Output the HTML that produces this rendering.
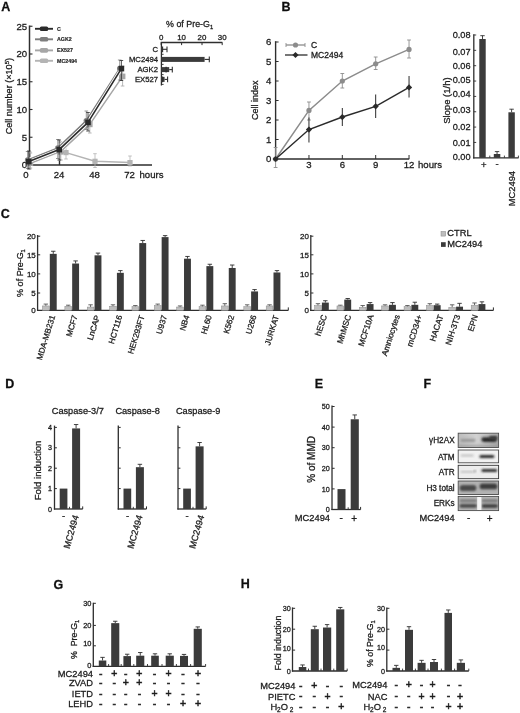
<!DOCTYPE html>
<html lang="en">
<head>
<meta charset="utf-8">
<title>Figure</title>
<style>
html,body{margin:0;padding:0;background:#fff;}
body{width:520px;height:713px;overflow:hidden;}
svg{display:block;font-family:"Liberation Sans",Arial,sans-serif;}
</style>
</head>
<body>
<svg width="520" height="713" viewBox="0 0 520 713">
<rect x="0" y="0" width="520" height="713" fill="#ffffff"/>
<g filter="url(#soft)">
<text x="1.20" y="11.40" font-size="12.5" text-anchor="start" font-weight="bold" font-style="normal" fill="#111" stroke="#111" stroke-width="0.28" >A</text>
<text x="281.50" y="11.40" font-size="12.5" text-anchor="start" font-weight="bold" font-style="normal" fill="#111" stroke="#111" stroke-width="0.28" >B</text>
<text x="0.80" y="217.60" font-size="12.5" text-anchor="start" font-weight="bold" font-style="normal" fill="#111" stroke="#111" stroke-width="0.28" >C</text>
<text x="5.20" y="388.20" font-size="12.5" text-anchor="start" font-weight="bold" font-style="normal" fill="#111" stroke="#111" stroke-width="0.28" >D</text>
<text x="314.80" y="387.60" font-size="12.5" text-anchor="start" font-weight="bold" font-style="normal" fill="#111" stroke="#111" stroke-width="0.28" >E</text>
<text x="423.60" y="388.00" font-size="12.5" text-anchor="start" font-weight="bold" font-style="normal" fill="#111" stroke="#111" stroke-width="0.28" >F</text>
<text x="53.40" y="589.20" font-size="12.5" text-anchor="start" font-weight="bold" font-style="normal" fill="#111" stroke="#111" stroke-width="0.28" >G</text>
<text x="240.80" y="588.40" font-size="12.5" text-anchor="start" font-weight="bold" font-style="normal" fill="#111" stroke="#111" stroke-width="0.28" >H</text>
<line x1="29.50" y1="25.50" x2="29.50" y2="165.70" stroke="#2e2e2e" stroke-width="1.5" />
<line x1="28.80" y1="165.00" x2="152.00" y2="165.00" stroke="#2e2e2e" stroke-width="1.5" />
<line x1="29.50" y1="26.25" x2="32.50" y2="26.25" stroke="#2e2e2e" stroke-width="1.1" />
<text x="27.20" y="29.65" font-size="9.6" text-anchor="end" font-weight="normal" font-style="normal" fill="#1c1c1c" stroke="#1c1c1c" stroke-width="0.28" >25</text>
<line x1="29.50" y1="54.00" x2="32.50" y2="54.00" stroke="#2e2e2e" stroke-width="1.1" />
<text x="27.20" y="57.40" font-size="9.6" text-anchor="end" font-weight="normal" font-style="normal" fill="#1c1c1c" stroke="#1c1c1c" stroke-width="0.28" >20</text>
<line x1="29.50" y1="81.75" x2="32.50" y2="81.75" stroke="#2e2e2e" stroke-width="1.1" />
<text x="27.20" y="85.15" font-size="9.6" text-anchor="end" font-weight="normal" font-style="normal" fill="#1c1c1c" stroke="#1c1c1c" stroke-width="0.28" >15</text>
<line x1="29.50" y1="109.50" x2="32.50" y2="109.50" stroke="#2e2e2e" stroke-width="1.1" />
<text x="27.20" y="112.90" font-size="9.6" text-anchor="end" font-weight="normal" font-style="normal" fill="#1c1c1c" stroke="#1c1c1c" stroke-width="0.28" >10</text>
<line x1="29.50" y1="137.25" x2="32.50" y2="137.25" stroke="#2e2e2e" stroke-width="1.1" />
<text x="27.20" y="140.65" font-size="9.6" text-anchor="end" font-weight="normal" font-style="normal" fill="#1c1c1c" stroke="#1c1c1c" stroke-width="0.28" >5</text>
<text x="27.20" y="168.40" font-size="9.6" text-anchor="end" font-weight="normal" font-style="normal" fill="#1c1c1c" stroke="#1c1c1c" stroke-width="0.28" >0</text>
<text x="26.00" y="177.60" font-size="9.6" text-anchor="middle" font-weight="normal" font-style="normal" fill="#1c1c1c" stroke="#1c1c1c" stroke-width="0.28" >0</text>
<text x="59.00" y="177.60" font-size="9.6" text-anchor="middle" font-weight="normal" font-style="normal" fill="#1c1c1c" stroke="#1c1c1c" stroke-width="0.28" >24</text>
<text x="94.50" y="177.60" font-size="9.6" text-anchor="middle" font-weight="normal" font-style="normal" fill="#1c1c1c" stroke="#1c1c1c" stroke-width="0.28" >48</text>
<text x="129.50" y="177.60" font-size="9.6" text-anchor="middle" font-weight="normal" font-style="normal" fill="#1c1c1c" stroke="#1c1c1c" stroke-width="0.28" >72</text>
<text x="139.50" y="177.60" font-size="9.6" text-anchor="start" font-weight="normal" font-style="normal" fill="#1c1c1c" stroke="#1c1c1c" stroke-width="0.28" >hours</text>
<text x="12.40" y="96.20" font-size="9.1" text-anchor="middle" font-weight="normal" font-style="normal" fill="#1c1c1c" stroke="#1c1c1c" stroke-width="0.28" transform="rotate(-90 12.40 96.20)" >Cell number (×10<tspan font-size="65%" dy="-3">5</tspan><tspan dy="3">)</tspan></text>
<line x1="59.50" y1="159.50" x2="59.50" y2="165.00" stroke="#2e2e2e" stroke-width="1.4" />
<polyline points="30.00,162.30 60.50,152.00 66.00,152.60 95.00,161.30 130.00,162.60" fill="none" stroke="#b4b4b4" stroke-width="1.5" stroke-linejoin="round"/>
<line x1="30.00" y1="152.00" x2="30.00" y2="169.00" stroke="#b4b4b4" stroke-width="0.8" />
<line x1="28.20" y1="152.00" x2="31.80" y2="152.00" stroke="#b4b4b4" stroke-width="0.8" />
<line x1="28.20" y1="169.00" x2="31.80" y2="169.00" stroke="#b4b4b4" stroke-width="0.8" />
<line x1="60.50" y1="142.00" x2="60.50" y2="160.00" stroke="#b4b4b4" stroke-width="0.8" />
<line x1="58.70" y1="142.00" x2="62.30" y2="142.00" stroke="#b4b4b4" stroke-width="0.8" />
<line x1="58.70" y1="160.00" x2="62.30" y2="160.00" stroke="#b4b4b4" stroke-width="0.8" />
<line x1="66.00" y1="146.00" x2="66.00" y2="159.00" stroke="#b4b4b4" stroke-width="0.8" />
<line x1="64.20" y1="146.00" x2="67.80" y2="146.00" stroke="#b4b4b4" stroke-width="0.8" />
<line x1="64.20" y1="159.00" x2="67.80" y2="159.00" stroke="#b4b4b4" stroke-width="0.8" />
<line x1="95.00" y1="153.70" x2="95.00" y2="167.50" stroke="#b4b4b4" stroke-width="0.8" />
<line x1="93.20" y1="153.70" x2="96.80" y2="153.70" stroke="#b4b4b4" stroke-width="0.8" />
<line x1="93.20" y1="167.50" x2="96.80" y2="167.50" stroke="#b4b4b4" stroke-width="0.8" />
<line x1="130.00" y1="156.00" x2="130.00" y2="166.00" stroke="#b4b4b4" stroke-width="0.8" />
<line x1="128.20" y1="156.00" x2="131.80" y2="156.00" stroke="#b4b4b4" stroke-width="0.8" />
<line x1="128.20" y1="166.00" x2="131.80" y2="166.00" stroke="#b4b4b4" stroke-width="0.8" />
<rect x="27.40" y="159.70" width="5.20" height="5.20" fill="#b4b4b4" />
<rect x="57.90" y="149.40" width="5.20" height="5.20" fill="#b4b4b4" />
<rect x="63.40" y="150.00" width="5.20" height="5.20" fill="#b4b4b4" />
<rect x="92.40" y="158.70" width="5.20" height="5.20" fill="#b4b4b4" />
<rect x="127.40" y="160.00" width="5.20" height="5.20" fill="#b4b4b4" />
<polyline points="30.40,163.20 60.80,151.40 89.80,124.40 122.60,76.40" fill="none" stroke="#fff" stroke-width="3.0" stroke-linejoin="round"/>
<polyline points="30.40,163.20 60.80,151.40 89.80,124.40 122.60,76.40" fill="none" stroke="#a6a6a6" stroke-width="1.5" stroke-linejoin="round"/>
<line x1="30.40" y1="153.00" x2="30.40" y2="168.00" stroke="#a6a6a6" stroke-width="0.8" />
<line x1="28.60" y1="153.00" x2="32.20" y2="153.00" stroke="#a6a6a6" stroke-width="0.8" />
<line x1="28.60" y1="168.00" x2="32.20" y2="168.00" stroke="#a6a6a6" stroke-width="0.8" />
<line x1="60.80" y1="142.00" x2="60.80" y2="160.00" stroke="#a6a6a6" stroke-width="0.8" />
<line x1="59.00" y1="142.00" x2="62.60" y2="142.00" stroke="#a6a6a6" stroke-width="0.8" />
<line x1="59.00" y1="160.00" x2="62.60" y2="160.00" stroke="#a6a6a6" stroke-width="0.8" />
<line x1="89.80" y1="115.00" x2="89.80" y2="133.00" stroke="#a6a6a6" stroke-width="0.8" />
<line x1="88.00" y1="115.00" x2="91.60" y2="115.00" stroke="#a6a6a6" stroke-width="0.8" />
<line x1="88.00" y1="133.00" x2="91.60" y2="133.00" stroke="#a6a6a6" stroke-width="0.8" />
<line x1="122.60" y1="66.00" x2="122.60" y2="86.00" stroke="#a6a6a6" stroke-width="0.8" />
<line x1="120.80" y1="66.00" x2="124.40" y2="66.00" stroke="#a6a6a6" stroke-width="0.8" />
<line x1="120.80" y1="86.00" x2="124.40" y2="86.00" stroke="#a6a6a6" stroke-width="0.8" />
<rect x="27.60" y="160.40" width="5.60" height="5.60" fill="#a6a6a6" />
<rect x="58.00" y="148.60" width="5.60" height="5.60" fill="#a6a6a6" />
<rect x="87.00" y="121.60" width="5.60" height="5.60" fill="#a6a6a6" />
<rect x="119.80" y="73.60" width="5.60" height="5.60" fill="#a6a6a6" />
<polyline points="27.60,160.00 57.80,147.90 86.30,120.60 119.70,68.40" fill="none" stroke="#fff" stroke-width="3.0" stroke-linejoin="round"/>
<polyline points="27.60,160.00 57.80,147.90 86.30,120.60 119.70,68.40" fill="none" stroke="#7e7e7e" stroke-width="1.5" stroke-linejoin="round"/>
<line x1="27.60" y1="151.50" x2="27.60" y2="168.50" stroke="#7e7e7e" stroke-width="0.8" />
<line x1="25.80" y1="151.50" x2="29.40" y2="151.50" stroke="#7e7e7e" stroke-width="0.8" />
<line x1="25.80" y1="168.50" x2="29.40" y2="168.50" stroke="#7e7e7e" stroke-width="0.8" />
<line x1="57.80" y1="139.50" x2="57.80" y2="158.50" stroke="#7e7e7e" stroke-width="0.8" />
<line x1="56.00" y1="139.50" x2="59.60" y2="139.50" stroke="#7e7e7e" stroke-width="0.8" />
<line x1="56.00" y1="158.50" x2="59.60" y2="158.50" stroke="#7e7e7e" stroke-width="0.8" />
<line x1="86.30" y1="111.00" x2="86.30" y2="129.50" stroke="#7e7e7e" stroke-width="0.8" />
<line x1="84.50" y1="111.00" x2="88.10" y2="111.00" stroke="#7e7e7e" stroke-width="0.8" />
<line x1="84.50" y1="129.50" x2="88.10" y2="129.50" stroke="#7e7e7e" stroke-width="0.8" />
<line x1="119.70" y1="60.00" x2="119.70" y2="80.00" stroke="#7e7e7e" stroke-width="0.8" />
<line x1="117.90" y1="60.00" x2="121.50" y2="60.00" stroke="#7e7e7e" stroke-width="0.8" />
<line x1="117.90" y1="80.00" x2="121.50" y2="80.00" stroke="#7e7e7e" stroke-width="0.8" />
<circle cx="27.60" cy="160.00" r="2.70" fill="#7e7e7e"/>
<circle cx="57.80" cy="147.90" r="2.70" fill="#7e7e7e"/>
<circle cx="86.30" cy="120.60" r="2.70" fill="#7e7e7e"/>
<circle cx="119.70" cy="68.40" r="2.70" fill="#7e7e7e"/>
<polyline points="28.80,161.60 59.20,149.60 88.00,122.40 121.40,68.60" fill="none" stroke="#fff" stroke-width="3.1" stroke-linejoin="round"/>
<polyline points="28.80,161.60 59.20,149.60 88.00,122.40 121.40,68.60" fill="none" stroke="#2b2b2b" stroke-width="1.6" stroke-linejoin="round"/>
<line x1="28.80" y1="151.00" x2="28.80" y2="169.00" stroke="#2b2b2b" stroke-width="0.8" />
<line x1="27.00" y1="151.00" x2="30.60" y2="151.00" stroke="#2b2b2b" stroke-width="0.8" />
<line x1="27.00" y1="169.00" x2="30.60" y2="169.00" stroke="#2b2b2b" stroke-width="0.8" />
<line x1="59.20" y1="140.00" x2="59.20" y2="160.00" stroke="#2b2b2b" stroke-width="0.8" />
<line x1="57.40" y1="140.00" x2="61.00" y2="140.00" stroke="#2b2b2b" stroke-width="0.8" />
<line x1="57.40" y1="160.00" x2="61.00" y2="160.00" stroke="#2b2b2b" stroke-width="0.8" />
<line x1="88.00" y1="112.50" x2="88.00" y2="131.00" stroke="#2b2b2b" stroke-width="0.8" />
<line x1="86.20" y1="112.50" x2="89.80" y2="112.50" stroke="#2b2b2b" stroke-width="0.8" />
<line x1="86.20" y1="131.00" x2="89.80" y2="131.00" stroke="#2b2b2b" stroke-width="0.8" />
<line x1="121.40" y1="60.50" x2="121.40" y2="80.50" stroke="#2b2b2b" stroke-width="0.8" />
<line x1="119.60" y1="60.50" x2="123.20" y2="60.50" stroke="#2b2b2b" stroke-width="0.8" />
<line x1="119.60" y1="80.50" x2="123.20" y2="80.50" stroke="#2b2b2b" stroke-width="0.8" />
<rect x="26.00" y="158.80" width="5.60" height="5.60" fill="#2b2b2b" />
<rect x="56.40" y="146.80" width="5.60" height="5.60" fill="#2b2b2b" />
<rect x="85.20" y="119.60" width="5.60" height="5.60" fill="#2b2b2b" />
<rect x="118.60" y="65.80" width="5.60" height="5.60" fill="#2b2b2b" />
<line x1="35.00" y1="28.80" x2="53.00" y2="28.80" stroke="#2b2b2b" stroke-width="1.9" />
<rect x="39.8" y="26.50" width="8.4" height="4.6" rx="1.6" fill="#2b2b2b"/>
<text x="57.00" y="30.70" font-size="5.3" text-anchor="start" font-weight="bold" font-style="normal" fill="#222" stroke="#222" stroke-width="0.15" >C</text>
<line x1="35.00" y1="39.30" x2="53.00" y2="39.30" stroke="#7e7e7e" stroke-width="1.9" />
<rect x="39.8" y="37.00" width="8.4" height="4.6" rx="1.6" fill="#7e7e7e"/>
<text x="57.00" y="41.20" font-size="5.3" text-anchor="start" font-weight="bold" font-style="normal" fill="#222" stroke="#222" stroke-width="0.15" >AGK2</text>
<line x1="35.00" y1="50.40" x2="53.00" y2="50.40" stroke="#a6a6a6" stroke-width="1.9" />
<rect x="39.8" y="48.10" width="8.4" height="4.6" rx="1.6" fill="#a6a6a6"/>
<text x="57.00" y="52.30" font-size="5.3" text-anchor="start" font-weight="bold" font-style="normal" fill="#222" stroke="#222" stroke-width="0.15" >EX527</text>
<line x1="35.00" y1="60.80" x2="53.00" y2="60.80" stroke="#b4b4b4" stroke-width="1.9" />
<rect x="39.8" y="58.50" width="8.4" height="4.6" rx="1.6" fill="#b4b4b4"/>
<text x="57.00" y="62.70" font-size="5.3" text-anchor="start" font-weight="bold" font-style="normal" fill="#222" stroke="#222" stroke-width="0.15" >MC2494</text>
<line x1="160.80" y1="42.50" x2="222.40" y2="42.50" stroke="#2e2e2e" stroke-width="1.3" />
<line x1="161.40" y1="42.50" x2="161.40" y2="85.50" stroke="#2e2e2e" stroke-width="1.3" />
<line x1="161.20" y1="42.50" x2="161.20" y2="45.10" stroke="#2e2e2e" stroke-width="1.0" />
<text x="161.20" y="39.70" font-size="7.9" text-anchor="middle" font-weight="normal" font-style="normal" fill="#1c1c1c" stroke="#1c1c1c" stroke-width="0.28" >0</text>
<line x1="181.60" y1="42.50" x2="181.60" y2="45.10" stroke="#2e2e2e" stroke-width="1.0" />
<text x="181.60" y="39.70" font-size="7.9" text-anchor="middle" font-weight="normal" font-style="normal" fill="#1c1c1c" stroke="#1c1c1c" stroke-width="0.28" >10</text>
<line x1="202.00" y1="42.50" x2="202.00" y2="45.10" stroke="#2e2e2e" stroke-width="1.0" />
<text x="202.00" y="39.70" font-size="7.9" text-anchor="middle" font-weight="normal" font-style="normal" fill="#1c1c1c" stroke="#1c1c1c" stroke-width="0.28" >20</text>
<line x1="222.20" y1="42.50" x2="222.20" y2="45.10" stroke="#2e2e2e" stroke-width="1.0" />
<text x="222.20" y="39.70" font-size="7.9" text-anchor="middle" font-weight="normal" font-style="normal" fill="#1c1c1c" stroke="#1c1c1c" stroke-width="0.28" >30</text>
<text x="189.60" y="27.20" font-size="8.9" text-anchor="middle" font-weight="normal" font-style="normal" fill="#1c1c1c" stroke="#1c1c1c" stroke-width="0.28" >% of Pre-G<tspan font-size="65%" dy="2">1</tspan></text>
<text x="158.00" y="52.10" font-size="7.7" text-anchor="end" font-weight="normal" font-style="normal" fill="#1c1c1c" stroke="#1c1c1c" stroke-width="0.28" >C</text>
<rect x="161.40" y="46.80" width="1.20" height="5.00" fill="#3a3a3a" />
<line x1="162.60" y1="49.30" x2="167.00" y2="49.30" stroke="#2e2e2e" stroke-width="1.1" />
<line x1="167.00" y1="46.40" x2="167.00" y2="52.20" stroke="#2e2e2e" stroke-width="1.1" />
<line x1="162.60" y1="46.40" x2="162.60" y2="52.20" stroke="#2e2e2e" stroke-width="1.1" />
<line x1="161.40" y1="54.30" x2="163.60" y2="54.30" stroke="#2e2e2e" stroke-width="0.9" />
<text x="158.00" y="62.20" font-size="7.7" text-anchor="end" font-weight="normal" font-style="normal" fill="#1c1c1c" stroke="#1c1c1c" stroke-width="0.28" >MC2494</text>
<rect x="161.40" y="56.90" width="43.20" height="5.00" fill="#3a3a3a" />
<line x1="204.60" y1="59.40" x2="209.30" y2="59.40" stroke="#2e2e2e" stroke-width="1.1" />
<line x1="209.30" y1="56.50" x2="209.30" y2="62.30" stroke="#2e2e2e" stroke-width="1.1" />
<line x1="161.40" y1="64.40" x2="163.60" y2="64.40" stroke="#2e2e2e" stroke-width="0.9" />
<text x="158.00" y="72.40" font-size="7.7" text-anchor="end" font-weight="normal" font-style="normal" fill="#1c1c1c" stroke="#1c1c1c" stroke-width="0.28" >AGK2</text>
<rect x="161.40" y="67.10" width="7.80" height="5.00" fill="#3a3a3a" />
<line x1="169.20" y1="69.60" x2="172.30" y2="69.60" stroke="#2e2e2e" stroke-width="1.1" />
<line x1="172.30" y1="66.70" x2="172.30" y2="72.50" stroke="#2e2e2e" stroke-width="1.1" />
<line x1="166.10" y1="66.70" x2="166.10" y2="72.50" stroke="#2e2e2e" stroke-width="1.1" />
<line x1="161.40" y1="74.60" x2="163.60" y2="74.60" stroke="#2e2e2e" stroke-width="0.9" />
<text x="158.00" y="82.20" font-size="7.7" text-anchor="end" font-weight="normal" font-style="normal" fill="#1c1c1c" stroke="#1c1c1c" stroke-width="0.28" >EX527</text>
<rect x="161.40" y="76.90" width="3.20" height="5.00" fill="#3a3a3a" />
<line x1="164.60" y1="79.40" x2="167.60" y2="79.40" stroke="#2e2e2e" stroke-width="1.1" />
<line x1="167.60" y1="76.50" x2="167.60" y2="82.30" stroke="#2e2e2e" stroke-width="1.1" />
<line x1="162.60" y1="76.50" x2="162.60" y2="82.30" stroke="#2e2e2e" stroke-width="1.1" />
<line x1="161.40" y1="84.40" x2="163.60" y2="84.40" stroke="#2e2e2e" stroke-width="0.9" />
<line x1="275.60" y1="41.20" x2="275.60" y2="159.60" stroke="#2e2e2e" stroke-width="1.4" />
<line x1="275.00" y1="159.00" x2="409.20" y2="159.00" stroke="#2e2e2e" stroke-width="1.4" />
<text x="271.40" y="162.40" font-size="9.6" text-anchor="end" font-weight="normal" font-style="normal" fill="#1c1c1c" stroke="#1c1c1c" stroke-width="0.28" >0</text>
<line x1="275.60" y1="139.50" x2="278.60" y2="139.50" stroke="#2e2e2e" stroke-width="1.0" />
<text x="271.40" y="142.90" font-size="9.6" text-anchor="end" font-weight="normal" font-style="normal" fill="#1c1c1c" stroke="#1c1c1c" stroke-width="0.28" >1</text>
<line x1="275.60" y1="120.00" x2="278.60" y2="120.00" stroke="#2e2e2e" stroke-width="1.0" />
<text x="271.40" y="123.40" font-size="9.6" text-anchor="end" font-weight="normal" font-style="normal" fill="#1c1c1c" stroke="#1c1c1c" stroke-width="0.28" >2</text>
<line x1="275.60" y1="100.50" x2="278.60" y2="100.50" stroke="#2e2e2e" stroke-width="1.0" />
<text x="271.40" y="103.90" font-size="9.6" text-anchor="end" font-weight="normal" font-style="normal" fill="#1c1c1c" stroke="#1c1c1c" stroke-width="0.28" >3</text>
<line x1="275.60" y1="81.00" x2="278.60" y2="81.00" stroke="#2e2e2e" stroke-width="1.0" />
<text x="271.40" y="84.40" font-size="9.6" text-anchor="end" font-weight="normal" font-style="normal" fill="#1c1c1c" stroke="#1c1c1c" stroke-width="0.28" >4</text>
<line x1="275.60" y1="61.50" x2="278.60" y2="61.50" stroke="#2e2e2e" stroke-width="1.0" />
<text x="271.40" y="64.90" font-size="9.6" text-anchor="end" font-weight="normal" font-style="normal" fill="#1c1c1c" stroke="#1c1c1c" stroke-width="0.28" >5</text>
<line x1="275.60" y1="42.00" x2="278.60" y2="42.00" stroke="#2e2e2e" stroke-width="1.0" />
<text x="271.40" y="45.40" font-size="9.6" text-anchor="end" font-weight="normal" font-style="normal" fill="#1c1c1c" stroke="#1c1c1c" stroke-width="0.28" >6</text>
<line x1="308.96" y1="159.00" x2="308.96" y2="155.00" stroke="#2e2e2e" stroke-width="1.0" />
<text x="308.96" y="168.40" font-size="9.6" text-anchor="middle" font-weight="normal" font-style="normal" fill="#1c1c1c" stroke="#1c1c1c" stroke-width="0.28" >3</text>
<line x1="342.32" y1="159.00" x2="342.32" y2="155.00" stroke="#2e2e2e" stroke-width="1.0" />
<text x="342.32" y="168.40" font-size="9.6" text-anchor="middle" font-weight="normal" font-style="normal" fill="#1c1c1c" stroke="#1c1c1c" stroke-width="0.28" >6</text>
<line x1="375.68" y1="159.00" x2="375.68" y2="155.00" stroke="#2e2e2e" stroke-width="1.0" />
<text x="375.68" y="168.40" font-size="9.6" text-anchor="middle" font-weight="normal" font-style="normal" fill="#1c1c1c" stroke="#1c1c1c" stroke-width="0.28" >9</text>
<line x1="409.04" y1="159.00" x2="409.04" y2="155.00" stroke="#2e2e2e" stroke-width="1.0" />
<text x="409.04" y="168.40" font-size="9.6" text-anchor="middle" font-weight="normal" font-style="normal" fill="#1c1c1c" stroke="#1c1c1c" stroke-width="0.28" >12</text>
<text x="418.00" y="168.40" font-size="9.6" text-anchor="start" font-weight="normal" font-style="normal" fill="#1c1c1c" stroke="#1c1c1c" stroke-width="0.28" >hours</text>
<text x="257.60" y="100.20" font-size="9.0" text-anchor="middle" font-weight="normal" font-style="normal" fill="#1c1c1c" stroke="#1c1c1c" stroke-width="0.28" transform="rotate(-90 257.60 100.20)" >Cell index</text>
<polyline points="275.60,159.00 308.96,110.44 342.32,81.00 375.68,63.84 409.04,49.41" fill="none" stroke="#8c8c8c" stroke-width="1.5"/>
<line x1="275.60" y1="147.50" x2="275.60" y2="167.50" stroke="#8c8c8c" stroke-width="0.9" />
<line x1="273.70" y1="147.50" x2="277.50" y2="147.50" stroke="#8c8c8c" stroke-width="0.9" />
<line x1="273.70" y1="167.50" x2="277.50" y2="167.50" stroke="#8c8c8c" stroke-width="0.9" />
<circle cx="275.60" cy="159.00" r="2.6" fill="#8c8c8c"/>
<line x1="308.96" y1="102.00" x2="308.96" y2="120.00" stroke="#8c8c8c" stroke-width="0.9" />
<line x1="307.06" y1="102.00" x2="310.86" y2="102.00" stroke="#8c8c8c" stroke-width="0.9" />
<line x1="307.06" y1="120.00" x2="310.86" y2="120.00" stroke="#8c8c8c" stroke-width="0.9" />
<circle cx="308.96" cy="110.44" r="2.6" fill="#8c8c8c"/>
<line x1="342.32" y1="73.50" x2="342.32" y2="88.00" stroke="#8c8c8c" stroke-width="0.9" />
<line x1="340.42" y1="73.50" x2="344.22" y2="73.50" stroke="#8c8c8c" stroke-width="0.9" />
<line x1="340.42" y1="88.00" x2="344.22" y2="88.00" stroke="#8c8c8c" stroke-width="0.9" />
<circle cx="342.32" cy="81.00" r="2.6" fill="#8c8c8c"/>
<line x1="375.68" y1="57.00" x2="375.68" y2="69.50" stroke="#8c8c8c" stroke-width="0.9" />
<line x1="373.78" y1="57.00" x2="377.58" y2="57.00" stroke="#8c8c8c" stroke-width="0.9" />
<line x1="373.78" y1="69.50" x2="377.58" y2="69.50" stroke="#8c8c8c" stroke-width="0.9" />
<circle cx="375.68" cy="63.84" r="2.6" fill="#8c8c8c"/>
<line x1="409.04" y1="40.00" x2="409.04" y2="58.00" stroke="#8c8c8c" stroke-width="0.9" />
<line x1="407.14" y1="40.00" x2="410.94" y2="40.00" stroke="#8c8c8c" stroke-width="0.9" />
<line x1="407.14" y1="58.00" x2="410.94" y2="58.00" stroke="#8c8c8c" stroke-width="0.9" />
<circle cx="409.04" cy="49.41" r="2.6" fill="#8c8c8c"/>
<polyline points="275.60,159.00 308.96,129.56 342.32,117.08 375.68,106.35 409.04,87.44" fill="none" stroke="#2b2b2b" stroke-width="1.5"/>
<polygon points="272.50,159.00 275.60,155.90 278.70,159.00 275.60,162.10" fill="#2b2b2b"/>
<line x1="308.96" y1="117.50" x2="308.96" y2="142.50" stroke="#2b2b2b" stroke-width="1.0" />
<polygon points="305.86,129.56 308.96,126.46 312.06,129.56 308.96,132.66" fill="#2b2b2b"/>
<line x1="342.32" y1="108.00" x2="342.32" y2="126.00" stroke="#2b2b2b" stroke-width="1.0" />
<polygon points="339.22,117.08 342.32,113.98 345.42,117.08 342.32,120.17" fill="#2b2b2b"/>
<line x1="375.68" y1="94.50" x2="375.68" y2="118.00" stroke="#2b2b2b" stroke-width="1.0" />
<polygon points="372.58,106.35 375.68,103.25 378.78,106.35 375.68,109.45" fill="#2b2b2b"/>
<line x1="409.04" y1="76.00" x2="409.04" y2="97.50" stroke="#2b2b2b" stroke-width="1.0" />
<polygon points="405.94,87.44 409.04,84.34 412.14,87.44 409.04,90.53" fill="#2b2b2b"/>
<line x1="286.00" y1="45.00" x2="305.00" y2="45.00" stroke="#8c8c8c" stroke-width="1.3" />
<line x1="286.00" y1="43.00" x2="286.00" y2="47.00" stroke="#8c8c8c" stroke-width="0.9" />
<line x1="305.00" y1="43.00" x2="305.00" y2="47.00" stroke="#8c8c8c" stroke-width="0.9" />
<circle cx="295.5" cy="45" r="2.6" fill="#8c8c8c"/>
<text x="311.00" y="48.10" font-size="8.5" text-anchor="start" font-weight="normal" font-style="normal" fill="#1c1c1c" stroke="#1c1c1c" stroke-width="0.28" >C</text>
<line x1="285.00" y1="55.00" x2="307.50" y2="55.00" stroke="#2b2b2b" stroke-width="1.3" />
<polygon points="292.40,55.00 295.50,51.90 298.60,55.00 295.50,58.10" fill="#2b2b2b"/>
<text x="311.00" y="58.10" font-size="8.5" text-anchor="start" font-weight="normal" font-style="normal" fill="#1c1c1c" stroke="#1c1c1c" stroke-width="0.28" >MC2494</text>
<line x1="473.80" y1="34.20" x2="473.80" y2="158.40" stroke="#2e2e2e" stroke-width="1.3" />
<line x1="473.20" y1="157.80" x2="518.60" y2="157.80" stroke="#2e2e2e" stroke-width="1.3" />
<text x="470.60" y="38.30" font-size="9.2" text-anchor="end" font-weight="normal" font-style="normal" fill="#1c1c1c" stroke="#1c1c1c" stroke-width="0.28" >0.08</text>
<text x="470.60" y="55.30" font-size="9.2" text-anchor="end" font-weight="normal" font-style="normal" fill="#1c1c1c" stroke="#1c1c1c" stroke-width="0.28" >0.07</text>
<text x="470.60" y="69.30" font-size="9.2" text-anchor="end" font-weight="normal" font-style="normal" fill="#1c1c1c" stroke="#1c1c1c" stroke-width="0.28" >0.06</text>
<text x="470.60" y="83.30" font-size="9.2" text-anchor="end" font-weight="normal" font-style="normal" fill="#1c1c1c" stroke="#1c1c1c" stroke-width="0.28" >0.05</text>
<text x="470.60" y="97.30" font-size="9.2" text-anchor="end" font-weight="normal" font-style="normal" fill="#1c1c1c" stroke="#1c1c1c" stroke-width="0.28" >0.04</text>
<text x="470.60" y="113.30" font-size="9.2" text-anchor="end" font-weight="normal" font-style="normal" fill="#1c1c1c" stroke="#1c1c1c" stroke-width="0.28" >0.03</text>
<text x="470.60" y="130.30" font-size="9.2" text-anchor="end" font-weight="normal" font-style="normal" fill="#1c1c1c" stroke="#1c1c1c" stroke-width="0.28" >0.02</text>
<text x="470.60" y="145.80" font-size="9.2" text-anchor="end" font-weight="normal" font-style="normal" fill="#1c1c1c" stroke="#1c1c1c" stroke-width="0.28" >0.01</text>
<text x="470.60" y="160.30" font-size="9.2" text-anchor="end" font-weight="normal" font-style="normal" fill="#1c1c1c" stroke="#1c1c1c" stroke-width="0.28" >0.00</text>
<line x1="473.80" y1="35.00" x2="476.20" y2="35.00" stroke="#2e2e2e" stroke-width="0.9" />
<line x1="473.80" y1="50.35" x2="476.20" y2="50.35" stroke="#2e2e2e" stroke-width="0.9" />
<line x1="473.80" y1="65.70" x2="476.20" y2="65.70" stroke="#2e2e2e" stroke-width="0.9" />
<line x1="473.80" y1="81.05" x2="476.20" y2="81.05" stroke="#2e2e2e" stroke-width="0.9" />
<line x1="473.80" y1="96.40" x2="476.20" y2="96.40" stroke="#2e2e2e" stroke-width="0.9" />
<line x1="473.80" y1="111.75" x2="476.20" y2="111.75" stroke="#2e2e2e" stroke-width="0.9" />
<line x1="473.80" y1="127.10" x2="476.20" y2="127.10" stroke="#2e2e2e" stroke-width="0.9" />
<line x1="473.80" y1="142.45" x2="476.20" y2="142.45" stroke="#2e2e2e" stroke-width="0.9" />
<text x="449.60" y="100.60" font-size="9.5" text-anchor="middle" font-weight="normal" font-style="normal" fill="#1c1c1c" stroke="#1c1c1c" stroke-width="0.28" transform="rotate(-90 449.60 100.60)" >Slope (1/h)</text>
<line x1="482.50" y1="35.70" x2="482.50" y2="39.00" stroke="#2e2e2e" stroke-width="0.9" />
<line x1="480.30" y1="35.70" x2="484.70" y2="35.70" stroke="#2e2e2e" stroke-width="0.9" />
<rect x="479.30" y="39.00" width="6.40" height="118.80" fill="#3a3a3a" />
<line x1="497.05" y1="151.60" x2="497.05" y2="154.00" stroke="#2e2e2e" stroke-width="0.9" />
<line x1="494.85" y1="151.60" x2="499.25" y2="151.60" stroke="#2e2e2e" stroke-width="0.9" />
<rect x="493.80" y="154.00" width="6.50" height="3.80" fill="#3a3a3a" />
<line x1="511.60" y1="109.20" x2="511.60" y2="112.30" stroke="#2e2e2e" stroke-width="0.9" />
<line x1="509.40" y1="109.20" x2="513.80" y2="109.20" stroke="#2e2e2e" stroke-width="0.9" />
<rect x="508.40" y="112.30" width="6.40" height="45.50" fill="#3a3a3a" />
<line x1="489.80" y1="157.80" x2="489.80" y2="155.60" stroke="#2e2e2e" stroke-width="0.9" />
<line x1="504.40" y1="157.80" x2="504.40" y2="155.60" stroke="#2e2e2e" stroke-width="0.9" />
<line x1="518.40" y1="157.80" x2="518.40" y2="155.60" stroke="#2e2e2e" stroke-width="0.9" />
<text x="483.80" y="168.00" font-size="9.5" text-anchor="middle" font-weight="normal" font-style="normal" fill="#1c1c1c" stroke="#1c1c1c" stroke-width="0.28" >+</text>
<text x="497.20" y="167.40" font-size="9.5" text-anchor="middle" font-weight="normal" font-style="normal" fill="#1c1c1c" stroke="#1c1c1c" stroke-width="0.28" >-</text>
<text x="514.80" y="171.00" font-size="9.3" text-anchor="end" font-weight="normal" font-style="normal" fill="#1c1c1c" stroke="#1c1c1c" stroke-width="0.28" transform="rotate(-90 514.80 171.00)" >MC2494</text>
<line x1="37.60" y1="235.00" x2="37.60" y2="311.00" stroke="#2e2e2e" stroke-width="1.3" />
<line x1="37.00" y1="310.40" x2="288.30" y2="310.40" stroke="#2e2e2e" stroke-width="1.3" />
<line x1="288.30" y1="310.40" x2="288.30" y2="307.40" stroke="#2e2e2e" stroke-width="1.0" />
<text x="35.80" y="313.20" font-size="8.0" text-anchor="end" font-weight="normal" font-style="normal" fill="#1c1c1c" stroke="#1c1c1c" stroke-width="0.28" >0</text>
<line x1="37.60" y1="293.00" x2="40.20" y2="293.00" stroke="#2e2e2e" stroke-width="1.0" />
<text x="35.80" y="295.90" font-size="8.0" text-anchor="end" font-weight="normal" font-style="normal" fill="#1c1c1c" stroke="#1c1c1c" stroke-width="0.28" >5</text>
<line x1="37.60" y1="273.90" x2="40.20" y2="273.90" stroke="#2e2e2e" stroke-width="1.0" />
<text x="35.80" y="276.80" font-size="8.0" text-anchor="end" font-weight="normal" font-style="normal" fill="#1c1c1c" stroke="#1c1c1c" stroke-width="0.28" >10</text>
<line x1="37.60" y1="254.80" x2="40.20" y2="254.80" stroke="#2e2e2e" stroke-width="1.0" />
<text x="35.80" y="257.70" font-size="8.0" text-anchor="end" font-weight="normal" font-style="normal" fill="#1c1c1c" stroke="#1c1c1c" stroke-width="0.28" >15</text>
<line x1="37.60" y1="236.20" x2="40.20" y2="236.20" stroke="#2e2e2e" stroke-width="1.0" />
<text x="35.80" y="239.10" font-size="8.0" text-anchor="end" font-weight="normal" font-style="normal" fill="#1c1c1c" stroke="#1c1c1c" stroke-width="0.28" >20</text>
<line x1="45.85" y1="304.08" x2="45.85" y2="305.94" stroke="#555" stroke-width="0.9" />
<line x1="43.65" y1="304.08" x2="48.05" y2="304.08" stroke="#555" stroke-width="0.9" />
<rect x="42.50" y="305.94" width="6.70" height="4.46" fill="#bdbdbd" />
<rect x="42.50" y="305.94" width="6.7" height="4.46" fill="none" stroke="#8a8a8a" stroke-width="0.5"/>
<line x1="53.25" y1="251.25" x2="53.25" y2="253.86" stroke="#2e2e2e" stroke-width="0.9" />
<line x1="51.05" y1="251.25" x2="55.45" y2="251.25" stroke="#2e2e2e" stroke-width="0.9" />
<rect x="49.80" y="253.86" width="6.90" height="56.54" fill="#3a3a3a" />
<text x="55.30" y="316.20" font-size="8.1" text-anchor="end" font-weight="normal" font-style="normal" fill="#1c1c1c" stroke="#1c1c1c" stroke-width="0.28" transform="rotate(-73 55.30 316.20)" >MDA-MB231</text>
<line x1="68.22" y1="305.19" x2="68.22" y2="306.31" stroke="#555" stroke-width="0.9" />
<line x1="66.02" y1="305.19" x2="70.42" y2="305.19" stroke="#555" stroke-width="0.9" />
<rect x="64.87" y="306.31" width="6.70" height="4.09" fill="#bdbdbd" />
<rect x="64.87" y="306.31" width="6.7" height="4.09" fill="none" stroke="#8a8a8a" stroke-width="0.5"/>
<line x1="75.62" y1="260.92" x2="75.62" y2="263.53" stroke="#2e2e2e" stroke-width="0.9" />
<line x1="73.42" y1="260.92" x2="77.82" y2="260.92" stroke="#2e2e2e" stroke-width="0.9" />
<rect x="72.17" y="263.53" width="6.90" height="46.87" fill="#3a3a3a" />
<text x="77.67" y="316.20" font-size="8.1" text-anchor="end" font-weight="normal" font-style="normal" fill="#1c1c1c" stroke="#1c1c1c" stroke-width="0.28" transform="rotate(-73 77.67 316.20)" >MCF7</text>
<line x1="90.59" y1="304.82" x2="90.59" y2="307.05" stroke="#555" stroke-width="0.9" />
<line x1="88.39" y1="304.82" x2="92.79" y2="304.82" stroke="#555" stroke-width="0.9" />
<rect x="87.24" y="307.05" width="6.70" height="3.35" fill="#bdbdbd" />
<rect x="87.24" y="307.05" width="6.7" height="3.35" fill="none" stroke="#8a8a8a" stroke-width="0.5"/>
<line x1="97.99" y1="253.11" x2="97.99" y2="255.34" stroke="#2e2e2e" stroke-width="0.9" />
<line x1="95.79" y1="253.11" x2="100.19" y2="253.11" stroke="#2e2e2e" stroke-width="0.9" />
<rect x="94.54" y="255.34" width="6.90" height="55.06" fill="#3a3a3a" />
<text x="100.04" y="316.20" font-size="8.1" text-anchor="end" font-weight="normal" font-style="normal" fill="#1c1c1c" stroke="#1c1c1c" stroke-width="0.28" transform="rotate(-73 100.04 316.20)" >LnCAP</text>
<line x1="112.96" y1="304.82" x2="112.96" y2="306.31" stroke="#555" stroke-width="0.9" />
<line x1="110.76" y1="304.82" x2="115.16" y2="304.82" stroke="#555" stroke-width="0.9" />
<rect x="109.61" y="306.31" width="6.70" height="4.09" fill="#bdbdbd" />
<rect x="109.61" y="306.31" width="6.7" height="4.09" fill="none" stroke="#8a8a8a" stroke-width="0.5"/>
<line x1="120.36" y1="270.60" x2="120.36" y2="272.83" stroke="#2e2e2e" stroke-width="0.9" />
<line x1="118.16" y1="270.60" x2="122.56" y2="270.60" stroke="#2e2e2e" stroke-width="0.9" />
<rect x="116.91" y="272.83" width="6.90" height="37.57" fill="#3a3a3a" />
<text x="122.41" y="316.20" font-size="8.1" text-anchor="end" font-weight="normal" font-style="normal" fill="#1c1c1c" stroke="#1c1c1c" stroke-width="0.28" transform="rotate(-73 122.41 316.20)" >HCT116</text>
<line x1="135.33" y1="305.56" x2="135.33" y2="306.68" stroke="#555" stroke-width="0.9" />
<line x1="133.13" y1="305.56" x2="137.53" y2="305.56" stroke="#555" stroke-width="0.9" />
<rect x="131.98" y="306.68" width="6.70" height="3.72" fill="#bdbdbd" />
<rect x="131.98" y="306.68" width="6.7" height="3.72" fill="none" stroke="#8a8a8a" stroke-width="0.5"/>
<line x1="142.73" y1="240.46" x2="142.73" y2="243.07" stroke="#2e2e2e" stroke-width="0.9" />
<line x1="140.53" y1="240.46" x2="144.93" y2="240.46" stroke="#2e2e2e" stroke-width="0.9" />
<rect x="139.28" y="243.07" width="6.90" height="67.33" fill="#3a3a3a" />
<text x="144.78" y="316.20" font-size="8.1" text-anchor="end" font-weight="normal" font-style="normal" fill="#1c1c1c" stroke="#1c1c1c" stroke-width="0.28" transform="rotate(-73 144.78 316.20)" >HEK293FT</text>
<line x1="157.70" y1="304.08" x2="157.70" y2="305.56" stroke="#555" stroke-width="0.9" />
<line x1="155.50" y1="304.08" x2="159.90" y2="304.08" stroke="#555" stroke-width="0.9" />
<rect x="154.35" y="305.56" width="6.70" height="4.84" fill="#bdbdbd" />
<rect x="154.35" y="305.56" width="6.7" height="4.84" fill="none" stroke="#8a8a8a" stroke-width="0.5"/>
<line x1="165.10" y1="235.63" x2="165.10" y2="237.12" stroke="#2e2e2e" stroke-width="0.9" />
<line x1="162.90" y1="235.63" x2="167.30" y2="235.63" stroke="#2e2e2e" stroke-width="0.9" />
<rect x="161.65" y="237.12" width="6.90" height="73.28" fill="#3a3a3a" />
<text x="167.15" y="316.20" font-size="8.1" text-anchor="end" font-weight="normal" font-style="normal" fill="#1c1c1c" stroke="#1c1c1c" stroke-width="0.28" transform="rotate(-73 167.15 316.20)" >U937</text>
<line x1="180.07" y1="305.94" x2="180.07" y2="307.05" stroke="#555" stroke-width="0.9" />
<line x1="177.87" y1="305.94" x2="182.27" y2="305.94" stroke="#555" stroke-width="0.9" />
<rect x="176.72" y="307.05" width="6.70" height="3.35" fill="#bdbdbd" />
<rect x="176.72" y="307.05" width="6.7" height="3.35" fill="none" stroke="#8a8a8a" stroke-width="0.5"/>
<line x1="187.47" y1="256.46" x2="187.47" y2="258.69" stroke="#2e2e2e" stroke-width="0.9" />
<line x1="185.27" y1="256.46" x2="189.67" y2="256.46" stroke="#2e2e2e" stroke-width="0.9" />
<rect x="184.02" y="258.69" width="6.90" height="51.71" fill="#3a3a3a" />
<text x="189.52" y="316.20" font-size="8.1" text-anchor="end" font-weight="normal" font-style="normal" fill="#1c1c1c" stroke="#1c1c1c" stroke-width="0.28" transform="rotate(-73 189.52 316.20)" >NB4</text>
<line x1="202.44" y1="305.19" x2="202.44" y2="306.68" stroke="#555" stroke-width="0.9" />
<line x1="200.24" y1="305.19" x2="204.64" y2="305.19" stroke="#555" stroke-width="0.9" />
<rect x="199.09" y="306.68" width="6.70" height="3.72" fill="#bdbdbd" />
<rect x="199.09" y="306.68" width="6.7" height="3.72" fill="none" stroke="#8a8a8a" stroke-width="0.5"/>
<line x1="209.84" y1="264.27" x2="209.84" y2="266.13" stroke="#2e2e2e" stroke-width="0.9" />
<line x1="207.64" y1="264.27" x2="212.04" y2="264.27" stroke="#2e2e2e" stroke-width="0.9" />
<rect x="206.39" y="266.13" width="6.90" height="44.27" fill="#3a3a3a" />
<text x="211.89" y="316.20" font-size="8.1" text-anchor="end" font-weight="normal" font-style="normal" fill="#1c1c1c" stroke="#1c1c1c" stroke-width="0.28" transform="rotate(-73 211.89 316.20)" >HL60</text>
<line x1="224.81" y1="303.70" x2="224.81" y2="305.94" stroke="#555" stroke-width="0.9" />
<line x1="222.61" y1="303.70" x2="227.01" y2="303.70" stroke="#555" stroke-width="0.9" />
<rect x="221.46" y="305.94" width="6.70" height="4.46" fill="#bdbdbd" />
<rect x="221.46" y="305.94" width="6.7" height="4.46" fill="none" stroke="#8a8a8a" stroke-width="0.5"/>
<line x1="232.21" y1="265.02" x2="232.21" y2="267.99" stroke="#2e2e2e" stroke-width="0.9" />
<line x1="230.01" y1="265.02" x2="234.41" y2="265.02" stroke="#2e2e2e" stroke-width="0.9" />
<rect x="228.76" y="267.99" width="6.90" height="42.41" fill="#3a3a3a" />
<text x="234.26" y="316.20" font-size="8.1" text-anchor="end" font-weight="normal" font-style="normal" fill="#1c1c1c" stroke="#1c1c1c" stroke-width="0.28" transform="rotate(-73 234.26 316.20)" >K562</text>
<line x1="247.18" y1="304.82" x2="247.18" y2="306.68" stroke="#555" stroke-width="0.9" />
<line x1="244.98" y1="304.82" x2="249.38" y2="304.82" stroke="#555" stroke-width="0.9" />
<rect x="243.83" y="306.68" width="6.70" height="3.72" fill="#bdbdbd" />
<rect x="243.83" y="306.68" width="6.7" height="3.72" fill="none" stroke="#8a8a8a" stroke-width="0.5"/>
<line x1="254.58" y1="289.57" x2="254.58" y2="291.43" stroke="#2e2e2e" stroke-width="0.9" />
<line x1="252.38" y1="289.57" x2="256.78" y2="289.57" stroke="#2e2e2e" stroke-width="0.9" />
<rect x="251.13" y="291.43" width="6.90" height="18.97" fill="#3a3a3a" />
<text x="256.63" y="316.20" font-size="8.1" text-anchor="end" font-weight="normal" font-style="normal" fill="#1c1c1c" stroke="#1c1c1c" stroke-width="0.28" transform="rotate(-73 256.63 316.20)" >U266</text>
<line x1="269.55" y1="304.82" x2="269.55" y2="305.94" stroke="#555" stroke-width="0.9" />
<line x1="267.35" y1="304.82" x2="271.75" y2="304.82" stroke="#555" stroke-width="0.9" />
<rect x="266.20" y="305.94" width="6.70" height="4.46" fill="#bdbdbd" />
<rect x="266.20" y="305.94" width="6.7" height="4.46" fill="none" stroke="#8a8a8a" stroke-width="0.5"/>
<line x1="276.95" y1="270.60" x2="276.95" y2="272.46" stroke="#2e2e2e" stroke-width="0.9" />
<line x1="274.75" y1="270.60" x2="279.15" y2="270.60" stroke="#2e2e2e" stroke-width="0.9" />
<rect x="273.50" y="272.46" width="6.90" height="37.94" fill="#3a3a3a" />
<text x="279.00" y="316.20" font-size="8.1" text-anchor="end" font-weight="normal" font-style="normal" fill="#1c1c1c" stroke="#1c1c1c" stroke-width="0.28" transform="rotate(-73 279.00 316.20)" >JURKAT</text>
<line x1="310.80" y1="235.00" x2="310.80" y2="311.00" stroke="#2e2e2e" stroke-width="1.3" />
<line x1="310.20" y1="310.40" x2="493.40" y2="310.40" stroke="#2e2e2e" stroke-width="1.3" />
<line x1="493.40" y1="310.40" x2="493.40" y2="307.40" stroke="#2e2e2e" stroke-width="1.0" />
<text x="309.00" y="313.20" font-size="8.0" text-anchor="end" font-weight="normal" font-style="normal" fill="#1c1c1c" stroke="#1c1c1c" stroke-width="0.28" >0</text>
<line x1="310.80" y1="293.00" x2="313.40" y2="293.00" stroke="#2e2e2e" stroke-width="1.0" />
<text x="309.00" y="295.90" font-size="8.0" text-anchor="end" font-weight="normal" font-style="normal" fill="#1c1c1c" stroke="#1c1c1c" stroke-width="0.28" >5</text>
<line x1="310.80" y1="273.90" x2="313.40" y2="273.90" stroke="#2e2e2e" stroke-width="1.0" />
<text x="309.00" y="276.80" font-size="8.0" text-anchor="end" font-weight="normal" font-style="normal" fill="#1c1c1c" stroke="#1c1c1c" stroke-width="0.28" >10</text>
<line x1="310.80" y1="254.80" x2="313.40" y2="254.80" stroke="#2e2e2e" stroke-width="1.0" />
<text x="309.00" y="257.70" font-size="8.0" text-anchor="end" font-weight="normal" font-style="normal" fill="#1c1c1c" stroke="#1c1c1c" stroke-width="0.28" >15</text>
<line x1="310.80" y1="236.20" x2="313.40" y2="236.20" stroke="#2e2e2e" stroke-width="1.0" />
<text x="309.00" y="239.10" font-size="8.0" text-anchor="end" font-weight="normal" font-style="normal" fill="#1c1c1c" stroke="#1c1c1c" stroke-width="0.28" >20</text>
<line x1="317.95" y1="303.70" x2="317.95" y2="305.56" stroke="#555" stroke-width="0.9" />
<line x1="315.75" y1="303.70" x2="320.15" y2="303.70" stroke="#555" stroke-width="0.9" />
<rect x="314.60" y="305.56" width="6.70" height="4.84" fill="#bdbdbd" />
<rect x="314.60" y="305.56" width="6.7" height="4.84" fill="none" stroke="#8a8a8a" stroke-width="0.5"/>
<line x1="325.35" y1="300.73" x2="325.35" y2="302.59" stroke="#2e2e2e" stroke-width="0.9" />
<line x1="323.15" y1="300.73" x2="327.55" y2="300.73" stroke="#2e2e2e" stroke-width="0.9" />
<rect x="321.90" y="302.59" width="6.90" height="7.81" fill="#3a3a3a" />
<text x="327.00" y="315.80" font-size="8.3" text-anchor="end" font-weight="normal" font-style="normal" fill="#1c1c1c" stroke="#1c1c1c" stroke-width="0.28" transform="rotate(-72 327.00 315.80)" >hESC</text>
<line x1="340.32" y1="305.19" x2="340.32" y2="305.94" stroke="#555" stroke-width="0.9" />
<line x1="338.12" y1="305.19" x2="342.52" y2="305.19" stroke="#555" stroke-width="0.9" />
<rect x="336.97" y="305.94" width="6.70" height="4.46" fill="#bdbdbd" />
<rect x="336.97" y="305.94" width="6.7" height="4.46" fill="none" stroke="#8a8a8a" stroke-width="0.5"/>
<line x1="347.72" y1="298.50" x2="347.72" y2="299.61" stroke="#2e2e2e" stroke-width="0.9" />
<line x1="345.52" y1="298.50" x2="349.92" y2="298.50" stroke="#2e2e2e" stroke-width="0.9" />
<rect x="344.27" y="299.61" width="6.90" height="10.79" fill="#3a3a3a" />
<text x="351.40" y="315.80" font-size="8.3" text-anchor="end" font-weight="normal" font-style="normal" fill="#1c1c1c" stroke="#1c1c1c" stroke-width="0.28" transform="rotate(-72 351.40 315.80)" >MhMSC</text>
<line x1="362.69" y1="305.56" x2="362.69" y2="307.42" stroke="#555" stroke-width="0.9" />
<line x1="360.49" y1="305.56" x2="364.89" y2="305.56" stroke="#555" stroke-width="0.9" />
<rect x="359.34" y="307.42" width="6.70" height="2.98" fill="#bdbdbd" />
<rect x="359.34" y="307.42" width="6.7" height="2.98" fill="none" stroke="#8a8a8a" stroke-width="0.5"/>
<line x1="370.09" y1="302.59" x2="370.09" y2="304.08" stroke="#2e2e2e" stroke-width="0.9" />
<line x1="367.89" y1="302.59" x2="372.29" y2="302.59" stroke="#2e2e2e" stroke-width="0.9" />
<rect x="366.64" y="304.08" width="6.90" height="6.32" fill="#3a3a3a" />
<text x="373.60" y="315.80" font-size="8.3" text-anchor="end" font-weight="normal" font-style="normal" fill="#1c1c1c" stroke="#1c1c1c" stroke-width="0.28" transform="rotate(-72 373.60 315.80)" >MCF10A</text>
<line x1="385.06" y1="304.82" x2="385.06" y2="305.94" stroke="#555" stroke-width="0.9" />
<line x1="382.86" y1="304.82" x2="387.26" y2="304.82" stroke="#555" stroke-width="0.9" />
<rect x="381.71" y="305.94" width="6.70" height="4.46" fill="#bdbdbd" />
<rect x="381.71" y="305.94" width="6.7" height="4.46" fill="none" stroke="#8a8a8a" stroke-width="0.5"/>
<line x1="392.46" y1="302.59" x2="392.46" y2="304.82" stroke="#2e2e2e" stroke-width="0.9" />
<line x1="390.26" y1="302.59" x2="394.66" y2="302.59" stroke="#2e2e2e" stroke-width="0.9" />
<rect x="389.01" y="304.82" width="6.90" height="5.58" fill="#3a3a3a" />
<text x="400.00" y="315.80" font-size="8.3" text-anchor="end" font-weight="normal" font-style="normal" fill="#1c1c1c" stroke="#1c1c1c" stroke-width="0.28" transform="rotate(-72 400.00 315.80)" >Amniocytes</text>
<line x1="407.43" y1="305.56" x2="407.43" y2="306.68" stroke="#555" stroke-width="0.9" />
<line x1="405.23" y1="305.56" x2="409.63" y2="305.56" stroke="#555" stroke-width="0.9" />
<rect x="404.08" y="306.68" width="6.70" height="3.72" fill="#bdbdbd" />
<rect x="404.08" y="306.68" width="6.7" height="3.72" fill="none" stroke="#8a8a8a" stroke-width="0.5"/>
<line x1="414.83" y1="302.22" x2="414.83" y2="304.82" stroke="#2e2e2e" stroke-width="0.9" />
<line x1="412.63" y1="302.22" x2="417.03" y2="302.22" stroke="#2e2e2e" stroke-width="0.9" />
<rect x="411.38" y="304.82" width="6.90" height="5.58" fill="#3a3a3a" />
<text x="422.30" y="315.80" font-size="8.3" text-anchor="end" font-weight="normal" font-style="normal" fill="#1c1c1c" stroke="#1c1c1c" stroke-width="0.28" transform="rotate(-72 422.30 315.80)" >mCD34+</text>
<line x1="429.80" y1="303.70" x2="429.80" y2="305.56" stroke="#555" stroke-width="0.9" />
<line x1="427.60" y1="303.70" x2="432.00" y2="303.70" stroke="#555" stroke-width="0.9" />
<rect x="426.45" y="305.56" width="6.70" height="4.84" fill="#bdbdbd" />
<rect x="426.45" y="305.56" width="6.7" height="4.84" fill="none" stroke="#8a8a8a" stroke-width="0.5"/>
<line x1="437.20" y1="304.08" x2="437.20" y2="305.19" stroke="#2e2e2e" stroke-width="0.9" />
<line x1="435.00" y1="304.08" x2="439.40" y2="304.08" stroke="#2e2e2e" stroke-width="0.9" />
<rect x="433.75" y="305.19" width="6.90" height="5.21" fill="#3a3a3a" />
<text x="443.50" y="315.80" font-size="8.3" text-anchor="end" font-weight="normal" font-style="normal" fill="#1c1c1c" stroke="#1c1c1c" stroke-width="0.28" transform="rotate(-72 443.50 315.80)" >HACAT</text>
<line x1="452.17" y1="304.82" x2="452.17" y2="307.42" stroke="#555" stroke-width="0.9" />
<line x1="449.97" y1="304.82" x2="454.37" y2="304.82" stroke="#555" stroke-width="0.9" />
<rect x="448.82" y="307.42" width="6.70" height="2.98" fill="#bdbdbd" />
<rect x="448.82" y="307.42" width="6.7" height="2.98" fill="none" stroke="#8a8a8a" stroke-width="0.5"/>
<line x1="459.57" y1="303.33" x2="459.57" y2="306.68" stroke="#2e2e2e" stroke-width="0.9" />
<line x1="457.37" y1="303.33" x2="461.77" y2="303.33" stroke="#2e2e2e" stroke-width="0.9" />
<rect x="456.12" y="306.68" width="6.90" height="3.72" fill="#3a3a3a" />
<text x="460.40" y="315.80" font-size="8.3" text-anchor="end" font-weight="normal" font-style="normal" fill="#1c1c1c" stroke="#1c1c1c" stroke-width="0.28" transform="rotate(-72 460.40 315.80)" >NIH-3T3</text>
<line x1="474.54" y1="302.96" x2="474.54" y2="305.19" stroke="#555" stroke-width="0.9" />
<line x1="472.34" y1="302.96" x2="476.74" y2="302.96" stroke="#555" stroke-width="0.9" />
<rect x="471.19" y="305.19" width="6.70" height="5.21" fill="#bdbdbd" />
<rect x="471.19" y="305.19" width="6.7" height="5.21" fill="none" stroke="#8a8a8a" stroke-width="0.5"/>
<line x1="481.94" y1="301.84" x2="481.94" y2="304.08" stroke="#2e2e2e" stroke-width="0.9" />
<line x1="479.74" y1="301.84" x2="484.14" y2="301.84" stroke="#2e2e2e" stroke-width="0.9" />
<rect x="478.49" y="304.08" width="6.90" height="6.32" fill="#3a3a3a" />
<text x="478.20" y="315.80" font-size="8.3" text-anchor="end" font-weight="normal" font-style="normal" fill="#1c1c1c" stroke="#1c1c1c" stroke-width="0.28" transform="rotate(-72 478.20 315.80)" >EPN</text>
<text x="22.60" y="273.00" font-size="9.0" text-anchor="middle" font-weight="normal" font-style="normal" fill="#1c1c1c" stroke="#1c1c1c" stroke-width="0.28" transform="rotate(-90 22.60 273.00)" >% of Pre-G<tspan font-size="65%" dy="2">1</tspan></text>
<rect x="441.00" y="231.40" width="4.70" height="4.70" fill="#bdbdbd" stroke="#8a8a8a" stroke-width="0.5"/>
<text x="447.30" y="236.40" font-size="9.3" text-anchor="start" font-weight="normal" font-style="normal" fill="#1c1c1c" stroke="#1c1c1c" stroke-width="0.28" >CTRL</text>
<rect x="441.00" y="242.20" width="4.70" height="4.70" fill="#3a3a3a" />
<text x="447.30" y="247.20" font-size="9.3" text-anchor="start" font-weight="normal" font-style="normal" fill="#1c1c1c" stroke="#1c1c1c" stroke-width="0.28" >MC2494</text>
<line x1="54.50" y1="425.60" x2="54.50" y2="509.60" stroke="#2e2e2e" stroke-width="1.3" />
<line x1="53.90" y1="509.00" x2="82.70" y2="509.00" stroke="#2e2e2e" stroke-width="1.3" />
<line x1="82.70" y1="509.00" x2="82.70" y2="506.40" stroke="#2e2e2e" stroke-width="1.0" />
<line x1="69.50" y1="509.00" x2="69.50" y2="506.80" stroke="#2e2e2e" stroke-width="0.9" />
<text x="52.10" y="511.60" font-size="7.2" text-anchor="end" font-weight="normal" font-style="normal" fill="#1c1c1c" stroke="#1c1c1c" stroke-width="0.28" >0</text>
<line x1="54.50" y1="488.60" x2="56.90" y2="488.60" stroke="#2e2e2e" stroke-width="1.0" />
<text x="52.10" y="491.20" font-size="7.2" text-anchor="end" font-weight="normal" font-style="normal" fill="#1c1c1c" stroke="#1c1c1c" stroke-width="0.28" >1</text>
<line x1="54.50" y1="468.20" x2="56.90" y2="468.20" stroke="#2e2e2e" stroke-width="1.0" />
<text x="52.10" y="470.80" font-size="7.2" text-anchor="end" font-weight="normal" font-style="normal" fill="#1c1c1c" stroke="#1c1c1c" stroke-width="0.28" >2</text>
<line x1="54.50" y1="447.80" x2="56.90" y2="447.80" stroke="#2e2e2e" stroke-width="1.0" />
<text x="52.10" y="450.40" font-size="7.2" text-anchor="end" font-weight="normal" font-style="normal" fill="#1c1c1c" stroke="#1c1c1c" stroke-width="0.28" >3</text>
<line x1="54.50" y1="427.40" x2="56.90" y2="427.40" stroke="#2e2e2e" stroke-width="1.0" />
<text x="52.10" y="430.00" font-size="7.2" text-anchor="end" font-weight="normal" font-style="normal" fill="#1c1c1c" stroke="#1c1c1c" stroke-width="0.28" >4</text>
<rect x="59.70" y="488.60" width="7.70" height="20.40" fill="#3a3a3a" />
<line x1="76.10" y1="424.54" x2="76.10" y2="428.42" stroke="#2e2e2e" stroke-width="0.9" />
<line x1="73.90" y1="424.54" x2="78.30" y2="424.54" stroke="#2e2e2e" stroke-width="0.9" />
<rect x="72.10" y="428.42" width="8.00" height="80.58" fill="#3a3a3a" />
<text x="77.80" y="413.80" font-size="9.2" text-anchor="middle" font-weight="normal" font-style="normal" fill="#1c1c1c" stroke="#1c1c1c" stroke-width="0.28" >Caspase-3/7</text>
<text x="63.70" y="519.20" font-size="9.5" text-anchor="middle" font-weight="normal" font-style="normal" fill="#1c1c1c" stroke="#1c1c1c" stroke-width="0.28" >-</text>
<text x="78.90" y="516.20" font-size="9.1" text-anchor="end" font-weight="normal" font-style="normal" fill="#1c1c1c" stroke="#1c1c1c" stroke-width="0.28" transform="rotate(-74 78.90 516.20)" >MC2494</text>
<line x1="118.30" y1="425.60" x2="118.30" y2="509.60" stroke="#2e2e2e" stroke-width="1.3" />
<line x1="117.70" y1="509.00" x2="146.50" y2="509.00" stroke="#2e2e2e" stroke-width="1.3" />
<line x1="146.50" y1="509.00" x2="146.50" y2="506.40" stroke="#2e2e2e" stroke-width="1.0" />
<line x1="133.30" y1="509.00" x2="133.30" y2="506.80" stroke="#2e2e2e" stroke-width="0.9" />
<line x1="118.30" y1="488.60" x2="120.70" y2="488.60" stroke="#2e2e2e" stroke-width="1.0" />
<line x1="118.30" y1="468.20" x2="120.70" y2="468.20" stroke="#2e2e2e" stroke-width="1.0" />
<line x1="118.30" y1="447.80" x2="120.70" y2="447.80" stroke="#2e2e2e" stroke-width="1.0" />
<line x1="118.30" y1="427.40" x2="120.70" y2="427.40" stroke="#2e2e2e" stroke-width="1.0" />
<rect x="123.50" y="488.60" width="7.70" height="20.40" fill="#3a3a3a" />
<line x1="139.90" y1="464.32" x2="139.90" y2="467.18" stroke="#2e2e2e" stroke-width="0.9" />
<line x1="137.70" y1="464.32" x2="142.10" y2="464.32" stroke="#2e2e2e" stroke-width="0.9" />
<rect x="135.90" y="467.18" width="8.00" height="41.82" fill="#3a3a3a" />
<text x="137.60" y="413.80" font-size="9.2" text-anchor="middle" font-weight="normal" font-style="normal" fill="#1c1c1c" stroke="#1c1c1c" stroke-width="0.28" >Caspase-8</text>
<text x="127.50" y="519.20" font-size="9.5" text-anchor="middle" font-weight="normal" font-style="normal" fill="#1c1c1c" stroke="#1c1c1c" stroke-width="0.28" >-</text>
<text x="142.70" y="516.20" font-size="9.1" text-anchor="end" font-weight="normal" font-style="normal" fill="#1c1c1c" stroke="#1c1c1c" stroke-width="0.28" transform="rotate(-74 142.70 516.20)" >MC2494</text>
<line x1="178.00" y1="425.60" x2="178.00" y2="509.60" stroke="#2e2e2e" stroke-width="1.3" />
<line x1="177.40" y1="509.00" x2="206.20" y2="509.00" stroke="#2e2e2e" stroke-width="1.3" />
<line x1="206.20" y1="509.00" x2="206.20" y2="506.40" stroke="#2e2e2e" stroke-width="1.0" />
<line x1="193.00" y1="509.00" x2="193.00" y2="506.80" stroke="#2e2e2e" stroke-width="0.9" />
<line x1="178.00" y1="488.60" x2="180.40" y2="488.60" stroke="#2e2e2e" stroke-width="1.0" />
<line x1="178.00" y1="468.20" x2="180.40" y2="468.20" stroke="#2e2e2e" stroke-width="1.0" />
<line x1="178.00" y1="447.80" x2="180.40" y2="447.80" stroke="#2e2e2e" stroke-width="1.0" />
<line x1="178.00" y1="427.40" x2="180.40" y2="427.40" stroke="#2e2e2e" stroke-width="1.0" />
<rect x="183.20" y="488.60" width="7.70" height="20.40" fill="#3a3a3a" />
<line x1="199.60" y1="442.50" x2="199.60" y2="446.37" stroke="#2e2e2e" stroke-width="0.9" />
<line x1="197.40" y1="442.50" x2="201.80" y2="442.50" stroke="#2e2e2e" stroke-width="0.9" />
<rect x="195.60" y="446.37" width="8.00" height="62.63" fill="#3a3a3a" />
<text x="198.20" y="413.80" font-size="9.2" text-anchor="middle" font-weight="normal" font-style="normal" fill="#1c1c1c" stroke="#1c1c1c" stroke-width="0.28" >Caspase-9</text>
<text x="187.20" y="519.20" font-size="9.5" text-anchor="middle" font-weight="normal" font-style="normal" fill="#1c1c1c" stroke="#1c1c1c" stroke-width="0.28" >-</text>
<text x="204.40" y="516.20" font-size="9.1" text-anchor="end" font-weight="normal" font-style="normal" fill="#1c1c1c" stroke="#1c1c1c" stroke-width="0.28" transform="rotate(-74 204.40 516.20)" >MC2494</text>
<text x="40.80" y="470.40" font-size="9.6" text-anchor="middle" font-weight="normal" font-style="normal" fill="#1c1c1c" stroke="#1c1c1c" stroke-width="0.28" transform="rotate(-90 40.80 470.40)" >Fold induction</text>
<line x1="332.00" y1="405.60" x2="332.00" y2="510.10" stroke="#2e2e2e" stroke-width="1.3" />
<line x1="331.40" y1="509.50" x2="360.60" y2="509.50" stroke="#2e2e2e" stroke-width="1.3" />
<line x1="360.60" y1="509.50" x2="360.60" y2="506.90" stroke="#2e2e2e" stroke-width="1.0" />
<line x1="348.20" y1="509.50" x2="348.20" y2="507.30" stroke="#2e2e2e" stroke-width="0.9" />
<text x="329.80" y="512.10" font-size="7.2" text-anchor="end" font-weight="normal" font-style="normal" fill="#1c1c1c" stroke="#1c1c1c" stroke-width="0.28" >0</text>
<line x1="332.00" y1="488.90" x2="334.60" y2="488.90" stroke="#2e2e2e" stroke-width="1.0" />
<text x="329.80" y="491.50" font-size="7.2" text-anchor="end" font-weight="normal" font-style="normal" fill="#1c1c1c" stroke="#1c1c1c" stroke-width="0.28" >10</text>
<line x1="332.00" y1="468.30" x2="334.60" y2="468.30" stroke="#2e2e2e" stroke-width="1.0" />
<text x="329.80" y="470.90" font-size="7.2" text-anchor="end" font-weight="normal" font-style="normal" fill="#1c1c1c" stroke="#1c1c1c" stroke-width="0.28" >20</text>
<line x1="332.00" y1="447.70" x2="334.60" y2="447.70" stroke="#2e2e2e" stroke-width="1.0" />
<text x="329.80" y="450.30" font-size="7.2" text-anchor="end" font-weight="normal" font-style="normal" fill="#1c1c1c" stroke="#1c1c1c" stroke-width="0.28" >30</text>
<line x1="332.00" y1="427.10" x2="334.60" y2="427.10" stroke="#2e2e2e" stroke-width="1.0" />
<text x="329.80" y="429.70" font-size="7.2" text-anchor="end" font-weight="normal" font-style="normal" fill="#1c1c1c" stroke="#1c1c1c" stroke-width="0.28" >40</text>
<line x1="332.00" y1="406.50" x2="334.60" y2="406.50" stroke="#2e2e2e" stroke-width="1.0" />
<text x="329.80" y="409.10" font-size="7.2" text-anchor="end" font-weight="normal" font-style="normal" fill="#1c1c1c" stroke="#1c1c1c" stroke-width="0.28" >50</text>
<rect x="337.50" y="489.11" width="8.00" height="20.39" fill="#3a3a3a" />
<line x1="354.75" y1="414.95" x2="354.75" y2="419.27" stroke="#2e2e2e" stroke-width="0.9" />
<line x1="352.55" y1="414.95" x2="356.95" y2="414.95" stroke="#2e2e2e" stroke-width="0.9" />
<rect x="350.70" y="419.27" width="8.10" height="90.23" fill="#3a3a3a" />
<text x="315.40" y="459.40" font-size="10.0" text-anchor="middle" font-weight="normal" font-style="normal" fill="#1c1c1c" stroke="#1c1c1c" stroke-width="0.28" transform="rotate(-90 315.40 459.40)" >% of MMD</text>
<text x="330.00" y="521.40" font-size="9.3" text-anchor="end" font-weight="normal" font-style="normal" fill="#1c1c1c" stroke="#1c1c1c" stroke-width="0.28" >MC2494</text>
<text x="341.20" y="520.80" font-size="10" text-anchor="middle" font-weight="normal" font-style="normal" fill="#1c1c1c" stroke="#1c1c1c" stroke-width="0.28" >-</text>
<text x="354.20" y="521.60" font-size="10" text-anchor="middle" font-weight="normal" font-style="normal" fill="#1c1c1c" stroke="#1c1c1c" stroke-width="0.28" >+</text>
<defs>
<filter id="b1" x="-20%" y="-60%" width="140%" height="220%"><feGaussianBlur stdDeviation="0.9"/></filter>
<filter id="b2" x="-20%" y="-60%" width="140%" height="220%"><feGaussianBlur stdDeviation="1.3"/></filter>
<linearGradient id="gH" x1="0" x2="1" y1="0" y2="0"><stop offset="0" stop-color="#bdbdbd"/><stop offset="0.45" stop-color="#d2d2d2"/><stop offset="1" stop-color="#a9a9a9"/></linearGradient>
<clipPath id="c1"><rect x="458.2" y="433.2" width="40.4" height="14.3"/></clipPath>
<clipPath id="c2"><rect x="458.2" y="450.0" width="40.4" height="12.8"/></clipPath>
<clipPath id="c3"><rect x="458.2" y="465.3" width="40.4" height="13.4"/></clipPath>
<clipPath id="c4"><rect x="458.2" y="481.0" width="40.4" height="13.5"/></clipPath>
<clipPath id="c5"><rect x="458.2" y="496.4" width="40.4" height="14.2"/></clipPath>
</defs>
<g clip-path="url(#c1)">
<rect x="458.20" y="433.20" width="40.40" height="14.30" fill="url(#gH)" />
<rect x="460.5" y="438.70" width="15.0" height="3.2" rx="1.60" fill="#8e8e8e" opacity="0.8" filter="url(#b2)"/>
<rect x="481.4" y="437.30" width="15.600000000000023" height="4.6" rx="2.30" fill="#2c2c2c" opacity="1.0" filter="url(#b1)"/>
<rect x="489.0" y="435.90" width="8.5" height="3.4" rx="1.70" fill="#3a3a3a" opacity="1.0" filter="url(#b1)"/>
<rect x="458.2" y="444.6" width="40.4" height="3.2" fill="#8f8f8f" opacity="0.55" filter="url(#b2)"/>
</g>
<rect x="458.2" y="433.2" width="40.4" height="14.3" fill="none" stroke="#4a4a4a" stroke-width="0.9"/>
<g clip-path="url(#c2)">
<rect x="458.20" y="450.00" width="40.40" height="12.80" fill="#f1f1f1" />
<rect x="460.6" y="454.85" width="13.0" height="1.5" rx="0.75" fill="#a8a8a8" opacity="0.9" filter="url(#b1)"/>
<rect x="479.4" y="454.90" width="15.0" height="3.0" rx="1.50" fill="#2a2a2a" opacity="1.0" filter="url(#b1)"/>
</g>
<rect x="458.2" y="450.0" width="40.4" height="12.8" fill="none" stroke="#4a4a4a" stroke-width="0.9"/>
<g clip-path="url(#c3)">
<rect x="458.20" y="465.30" width="40.40" height="13.40" fill="#ededed" />
<rect x="460.6" y="471.10" width="13.399999999999977" height="1.4" rx="0.70" fill="#b0b0b0" opacity="0.9" filter="url(#b1)"/>
<rect x="473.8" y="470.20" width="2.1999999999999886" height="2.0" rx="1.00" fill="#777" opacity="0.9" filter="url(#b1)"/>
<rect x="481.4" y="469.10" width="15.800000000000011" height="3.0" rx="1.50" fill="#2e2e2e" opacity="1.0" filter="url(#b1)"/>
</g>
<rect x="458.2" y="465.3" width="40.4" height="13.4" fill="none" stroke="#333" stroke-width="0.9"/>
<g clip-path="url(#c4)">
<rect x="458.20" y="481.00" width="40.40" height="13.50" fill="#b3b3b3" />
<rect x="459.6" y="484.90" width="16.799999999999955" height="6.2" rx="3.10" fill="#484848" opacity="1.0" filter="url(#b2)"/>
<rect x="479.6" y="483.60" width="17.799999999999955" height="5.6" rx="2.80" fill="#3c3c3c" opacity="1.0" filter="url(#b2)"/>
</g>
<rect x="458.2" y="481.0" width="40.4" height="13.5" fill="none" stroke="#4a4a4a" stroke-width="0.9"/>
<g clip-path="url(#c5)">
<rect x="458.20" y="496.40" width="40.40" height="14.20" fill="#b6b6b6" />
<rect x="459.4" y="499.30" width="17.600000000000023" height="3.0" rx="1.50" fill="#7c7c7c" opacity="1.0" filter="url(#b1)"/>
<rect x="459.4" y="504.10" width="17.600000000000023" height="3.6" rx="1.80" fill="#484848" opacity="1.0" filter="url(#b1)"/>
<rect x="481.6" y="499.30" width="16.399999999999977" height="3.0" rx="1.50" fill="#787878" opacity="1.0" filter="url(#b1)"/>
<rect x="481.6" y="504.10" width="16.399999999999977" height="3.8" rx="1.90" fill="#444444" opacity="1.0" filter="url(#b1)"/>
<rect x="477.2" y="496" width="4.2" height="15" fill="#f4f4f4"/>
</g>
<rect x="458.2" y="496.4" width="40.4" height="14.2" fill="none" stroke="#4a4a4a" stroke-width="0.9"/>
<text x="454.60" y="443.40" font-size="8.2" text-anchor="end" font-weight="normal" font-style="normal" fill="#1c1c1c" stroke="#1c1c1c" stroke-width="0.28" >γH2AX</text>
<text x="454.60" y="459.60" font-size="8.2" text-anchor="end" font-weight="normal" font-style="normal" fill="#1c1c1c" stroke="#1c1c1c" stroke-width="0.28" >ATM</text>
<text x="454.60" y="475.20" font-size="8.2" text-anchor="end" font-weight="normal" font-style="normal" fill="#1c1c1c" stroke="#1c1c1c" stroke-width="0.28" >ATR</text>
<text x="454.60" y="490.80" font-size="8.2" text-anchor="end" font-weight="normal" font-style="normal" fill="#1c1c1c" stroke="#1c1c1c" stroke-width="0.28" >H3 total</text>
<text x="454.60" y="506.40" font-size="8.2" text-anchor="end" font-weight="normal" font-style="normal" fill="#1c1c1c" stroke="#1c1c1c" stroke-width="0.28" >ERKs</text>
<text x="454.60" y="521.40" font-size="9.3" text-anchor="end" font-weight="normal" font-style="normal" fill="#1c1c1c" stroke="#1c1c1c" stroke-width="0.28" >MC2494</text>
<text x="468.60" y="520.80" font-size="10" text-anchor="middle" font-weight="normal" font-style="normal" fill="#1c1c1c" stroke="#1c1c1c" stroke-width="0.28" >-</text>
<text x="489.60" y="521.60" font-size="10" text-anchor="middle" font-weight="normal" font-style="normal" fill="#1c1c1c" stroke="#1c1c1c" stroke-width="0.28" >+</text>
<line x1="93.30" y1="602.80" x2="93.30" y2="667.00" stroke="#2e2e2e" stroke-width="1.3" />
<line x1="92.70" y1="666.40" x2="205.60" y2="666.40" stroke="#2e2e2e" stroke-width="1.3" />
<text x="91.40" y="668.30" font-size="7.4" text-anchor="end" font-weight="normal" font-style="normal" fill="#1c1c1c" stroke="#1c1c1c" stroke-width="0.28" >0</text>
<line x1="93.30" y1="645.80" x2="95.90" y2="645.80" stroke="#2e2e2e" stroke-width="1.0" />
<text x="91.40" y="646.00" font-size="7.4" text-anchor="end" font-weight="normal" font-style="normal" fill="#1c1c1c" stroke="#1c1c1c" stroke-width="0.28" >10</text>
<line x1="93.30" y1="625.40" x2="95.90" y2="625.40" stroke="#2e2e2e" stroke-width="1.0" />
<text x="91.40" y="628.00" font-size="7.4" text-anchor="end" font-weight="normal" font-style="normal" fill="#1c1c1c" stroke="#1c1c1c" stroke-width="0.28" >20</text>
<line x1="93.30" y1="603.30" x2="95.90" y2="603.30" stroke="#2e2e2e" stroke-width="1.0" />
<text x="91.40" y="606.10" font-size="7.4" text-anchor="end" font-weight="normal" font-style="normal" fill="#1c1c1c" stroke="#1c1c1c" stroke-width="0.28" >30</text>
<line x1="102.55" y1="657.37" x2="102.55" y2="660.52" stroke="#2e2e2e" stroke-width="0.9" />
<line x1="100.35" y1="657.37" x2="104.75" y2="657.37" stroke="#2e2e2e" stroke-width="0.9" />
<rect x="98.80" y="660.52" width="7.50" height="5.88" fill="#3a3a3a" />
<line x1="115.25" y1="621.25" x2="115.25" y2="623.14" stroke="#2e2e2e" stroke-width="0.9" />
<line x1="113.05" y1="621.25" x2="117.45" y2="621.25" stroke="#2e2e2e" stroke-width="0.9" />
<rect x="111.20" y="623.14" width="8.10" height="43.26" fill="#3a3a3a" />
<line x1="127.20" y1="654.22" x2="127.20" y2="656.11" stroke="#2e2e2e" stroke-width="0.9" />
<line x1="125.00" y1="654.22" x2="129.40" y2="654.22" stroke="#2e2e2e" stroke-width="0.9" />
<rect x="123.40" y="656.11" width="7.60" height="10.29" fill="#3a3a3a" />
<line x1="140.25" y1="652.54" x2="140.25" y2="655.69" stroke="#2e2e2e" stroke-width="0.9" />
<line x1="138.05" y1="652.54" x2="142.45" y2="652.54" stroke="#2e2e2e" stroke-width="0.9" />
<rect x="136.20" y="655.69" width="8.10" height="10.71" fill="#3a3a3a" />
<line x1="155.00" y1="653.80" x2="155.00" y2="655.69" stroke="#2e2e2e" stroke-width="0.9" />
<line x1="152.80" y1="653.80" x2="157.20" y2="653.80" stroke="#2e2e2e" stroke-width="0.9" />
<rect x="151.20" y="655.69" width="7.60" height="10.71" fill="#3a3a3a" />
<line x1="169.75" y1="653.80" x2="169.75" y2="655.69" stroke="#2e2e2e" stroke-width="0.9" />
<line x1="167.55" y1="653.80" x2="171.95" y2="653.80" stroke="#2e2e2e" stroke-width="0.9" />
<rect x="165.70" y="655.69" width="8.10" height="10.71" fill="#3a3a3a" />
<line x1="184.00" y1="654.43" x2="184.00" y2="655.90" stroke="#2e2e2e" stroke-width="0.9" />
<line x1="181.80" y1="654.43" x2="186.20" y2="654.43" stroke="#2e2e2e" stroke-width="0.9" />
<rect x="180.00" y="655.90" width="8.00" height="10.50" fill="#3a3a3a" />
<line x1="197.75" y1="626.92" x2="197.75" y2="628.81" stroke="#2e2e2e" stroke-width="0.9" />
<line x1="195.55" y1="626.92" x2="199.95" y2="626.92" stroke="#2e2e2e" stroke-width="0.9" />
<rect x="193.70" y="628.81" width="8.10" height="37.59" fill="#3a3a3a" />
<line x1="108.60" y1="666.40" x2="108.60" y2="664.00" stroke="#2e2e2e" stroke-width="0.9" />
<line x1="121.20" y1="666.40" x2="121.20" y2="664.00" stroke="#2e2e2e" stroke-width="0.9" />
<line x1="133.80" y1="666.40" x2="133.80" y2="664.00" stroke="#2e2e2e" stroke-width="0.9" />
<line x1="147.50" y1="666.40" x2="147.50" y2="664.00" stroke="#2e2e2e" stroke-width="0.9" />
<line x1="162.00" y1="666.40" x2="162.00" y2="664.00" stroke="#2e2e2e" stroke-width="0.9" />
<line x1="176.40" y1="666.40" x2="176.40" y2="664.00" stroke="#2e2e2e" stroke-width="0.9" />
<line x1="190.60" y1="666.40" x2="190.60" y2="664.00" stroke="#2e2e2e" stroke-width="0.9" />
<line x1="205.60" y1="666.40" x2="205.60" y2="664.00" stroke="#2e2e2e" stroke-width="0.9" />
<text x="77.20" y="639.40" font-size="8.8" text-anchor="middle" font-weight="normal" font-style="normal" fill="#1c1c1c" stroke="#1c1c1c" stroke-width="0.28" transform="rotate(-90 77.20 639.40)" >%&#160;&#160;Pre-G<tspan font-size="65%" dy="2">1</tspan></text>
<text x="93.00" y="677.00" font-size="9.3" text-anchor="end" font-weight="normal" font-style="normal" fill="#1c1c1c" stroke="#1c1c1c" stroke-width="0.28" >MC2494</text>
<text x="100.80" y="676.90" font-size="10.4" text-anchor="middle" font-weight="normal" font-style="normal" fill="#1c1c1c" stroke="#1c1c1c" stroke-width="0.5" >-</text>
<text x="114.30" y="677.30" font-size="10.4" text-anchor="middle" font-weight="normal" font-style="normal" fill="#1c1c1c" stroke="#1c1c1c" stroke-width="0.5" >+</text>
<text x="125.70" y="676.90" font-size="10.4" text-anchor="middle" font-weight="normal" font-style="normal" fill="#1c1c1c" stroke="#1c1c1c" stroke-width="0.5" >-</text>
<text x="139.40" y="677.30" font-size="10.4" text-anchor="middle" font-weight="normal" font-style="normal" fill="#1c1c1c" stroke="#1c1c1c" stroke-width="0.5" >+</text>
<text x="154.50" y="676.90" font-size="10.4" text-anchor="middle" font-weight="normal" font-style="normal" fill="#1c1c1c" stroke="#1c1c1c" stroke-width="0.5" >-</text>
<text x="168.60" y="677.30" font-size="10.4" text-anchor="middle" font-weight="normal" font-style="normal" fill="#1c1c1c" stroke="#1c1c1c" stroke-width="0.5" >+</text>
<text x="183.00" y="676.90" font-size="10.4" text-anchor="middle" font-weight="normal" font-style="normal" fill="#1c1c1c" stroke="#1c1c1c" stroke-width="0.5" >-</text>
<text x="198.00" y="677.30" font-size="10.4" text-anchor="middle" font-weight="normal" font-style="normal" fill="#1c1c1c" stroke="#1c1c1c" stroke-width="0.5" >+</text>
<text x="93.00" y="686.10" font-size="9.3" text-anchor="end" font-weight="normal" font-style="normal" fill="#1c1c1c" stroke="#1c1c1c" stroke-width="0.28" >ZVAD</text>
<text x="100.80" y="686.00" font-size="10.4" text-anchor="middle" font-weight="normal" font-style="normal" fill="#1c1c1c" stroke="#1c1c1c" stroke-width="0.5" >-</text>
<text x="114.30" y="686.00" font-size="10.4" text-anchor="middle" font-weight="normal" font-style="normal" fill="#1c1c1c" stroke="#1c1c1c" stroke-width="0.5" >-</text>
<text x="125.70" y="686.40" font-size="10.4" text-anchor="middle" font-weight="normal" font-style="normal" fill="#1c1c1c" stroke="#1c1c1c" stroke-width="0.5" >+</text>
<text x="139.40" y="686.40" font-size="10.4" text-anchor="middle" font-weight="normal" font-style="normal" fill="#1c1c1c" stroke="#1c1c1c" stroke-width="0.5" >+</text>
<text x="154.50" y="686.00" font-size="10.4" text-anchor="middle" font-weight="normal" font-style="normal" fill="#1c1c1c" stroke="#1c1c1c" stroke-width="0.5" >-</text>
<text x="168.60" y="686.00" font-size="10.4" text-anchor="middle" font-weight="normal" font-style="normal" fill="#1c1c1c" stroke="#1c1c1c" stroke-width="0.5" >-</text>
<text x="183.00" y="686.00" font-size="10.4" text-anchor="middle" font-weight="normal" font-style="normal" fill="#1c1c1c" stroke="#1c1c1c" stroke-width="0.5" >-</text>
<text x="198.00" y="686.00" font-size="10.4" text-anchor="middle" font-weight="normal" font-style="normal" fill="#1c1c1c" stroke="#1c1c1c" stroke-width="0.5" >-</text>
<text x="93.00" y="696.90" font-size="9.3" text-anchor="end" font-weight="normal" font-style="normal" fill="#1c1c1c" stroke="#1c1c1c" stroke-width="0.28" >IETD</text>
<text x="100.80" y="696.80" font-size="10.4" text-anchor="middle" font-weight="normal" font-style="normal" fill="#1c1c1c" stroke="#1c1c1c" stroke-width="0.5" >-</text>
<text x="114.30" y="696.80" font-size="10.4" text-anchor="middle" font-weight="normal" font-style="normal" fill="#1c1c1c" stroke="#1c1c1c" stroke-width="0.5" >-</text>
<text x="125.70" y="696.80" font-size="10.4" text-anchor="middle" font-weight="normal" font-style="normal" fill="#1c1c1c" stroke="#1c1c1c" stroke-width="0.5" >-</text>
<text x="139.40" y="696.80" font-size="10.4" text-anchor="middle" font-weight="normal" font-style="normal" fill="#1c1c1c" stroke="#1c1c1c" stroke-width="0.5" >-</text>
<text x="154.50" y="697.20" font-size="10.4" text-anchor="middle" font-weight="normal" font-style="normal" fill="#1c1c1c" stroke="#1c1c1c" stroke-width="0.5" >+</text>
<text x="168.60" y="697.20" font-size="10.4" text-anchor="middle" font-weight="normal" font-style="normal" fill="#1c1c1c" stroke="#1c1c1c" stroke-width="0.5" >+</text>
<text x="183.00" y="696.80" font-size="10.4" text-anchor="middle" font-weight="normal" font-style="normal" fill="#1c1c1c" stroke="#1c1c1c" stroke-width="0.5" >-</text>
<text x="198.00" y="696.80" font-size="10.4" text-anchor="middle" font-weight="normal" font-style="normal" fill="#1c1c1c" stroke="#1c1c1c" stroke-width="0.5" >-</text>
<text x="93.00" y="706.90" font-size="9.3" text-anchor="end" font-weight="normal" font-style="normal" fill="#1c1c1c" stroke="#1c1c1c" stroke-width="0.28" >LEHD</text>
<text x="100.80" y="706.80" font-size="10.4" text-anchor="middle" font-weight="normal" font-style="normal" fill="#1c1c1c" stroke="#1c1c1c" stroke-width="0.5" >-</text>
<text x="114.30" y="706.80" font-size="10.4" text-anchor="middle" font-weight="normal" font-style="normal" fill="#1c1c1c" stroke="#1c1c1c" stroke-width="0.5" >-</text>
<text x="125.70" y="706.80" font-size="10.4" text-anchor="middle" font-weight="normal" font-style="normal" fill="#1c1c1c" stroke="#1c1c1c" stroke-width="0.5" >-</text>
<text x="139.40" y="706.80" font-size="10.4" text-anchor="middle" font-weight="normal" font-style="normal" fill="#1c1c1c" stroke="#1c1c1c" stroke-width="0.5" >-</text>
<text x="154.50" y="706.80" font-size="10.4" text-anchor="middle" font-weight="normal" font-style="normal" fill="#1c1c1c" stroke="#1c1c1c" stroke-width="0.5" >-</text>
<text x="168.60" y="706.80" font-size="10.4" text-anchor="middle" font-weight="normal" font-style="normal" fill="#1c1c1c" stroke="#1c1c1c" stroke-width="0.5" >-</text>
<text x="183.00" y="707.20" font-size="10.4" text-anchor="middle" font-weight="normal" font-style="normal" fill="#1c1c1c" stroke="#1c1c1c" stroke-width="0.5" >+</text>
<text x="198.00" y="707.20" font-size="10.4" text-anchor="middle" font-weight="normal" font-style="normal" fill="#1c1c1c" stroke="#1c1c1c" stroke-width="0.5" >+</text>
<line x1="292.50" y1="607.40" x2="292.50" y2="671.60" stroke="#2e2e2e" stroke-width="1.3" />
<line x1="291.90" y1="671.00" x2="347.20" y2="671.00" stroke="#2e2e2e" stroke-width="1.3" />
<text x="290.80" y="673.60" font-size="7.2" text-anchor="end" font-weight="normal" font-style="normal" fill="#1c1c1c" stroke="#1c1c1c" stroke-width="0.28" >0</text>
<line x1="292.50" y1="650.10" x2="295.10" y2="650.10" stroke="#2e2e2e" stroke-width="1.0" />
<text x="290.80" y="650.50" font-size="7.2" text-anchor="end" font-weight="normal" font-style="normal" fill="#1c1c1c" stroke="#1c1c1c" stroke-width="0.28" >10</text>
<line x1="292.50" y1="629.20" x2="295.10" y2="629.20" stroke="#2e2e2e" stroke-width="1.0" />
<text x="290.80" y="631.80" font-size="7.2" text-anchor="end" font-weight="normal" font-style="normal" fill="#1c1c1c" stroke="#1c1c1c" stroke-width="0.28" >20</text>
<line x1="292.50" y1="608.30" x2="295.10" y2="608.30" stroke="#2e2e2e" stroke-width="1.0" />
<text x="290.80" y="610.90" font-size="7.2" text-anchor="end" font-weight="normal" font-style="normal" fill="#1c1c1c" stroke="#1c1c1c" stroke-width="0.28" >30</text>
<line x1="302.55" y1="664.94" x2="302.55" y2="667.03" stroke="#2e2e2e" stroke-width="0.9" />
<line x1="300.35" y1="664.94" x2="304.75" y2="664.94" stroke="#2e2e2e" stroke-width="0.9" />
<rect x="298.80" y="667.03" width="7.50" height="3.97" fill="#3a3a3a" />
<line x1="314.80" y1="626.27" x2="314.80" y2="629.20" stroke="#2e2e2e" stroke-width="0.9" />
<line x1="312.60" y1="626.27" x2="317.00" y2="626.27" stroke="#2e2e2e" stroke-width="0.9" />
<rect x="310.80" y="629.20" width="8.00" height="41.80" fill="#3a3a3a" />
<line x1="327.10" y1="624.60" x2="327.10" y2="627.53" stroke="#2e2e2e" stroke-width="0.9" />
<line x1="324.90" y1="624.60" x2="329.30" y2="624.60" stroke="#2e2e2e" stroke-width="0.9" />
<rect x="323.00" y="627.53" width="8.20" height="43.47" fill="#3a3a3a" />
<line x1="340.25" y1="607.46" x2="340.25" y2="609.35" stroke="#2e2e2e" stroke-width="0.9" />
<line x1="338.05" y1="607.46" x2="342.45" y2="607.46" stroke="#2e2e2e" stroke-width="0.9" />
<rect x="336.20" y="609.35" width="8.10" height="61.65" fill="#3a3a3a" />
<line x1="308.50" y1="671.00" x2="308.50" y2="668.60" stroke="#2e2e2e" stroke-width="0.9" />
<line x1="321.00" y1="671.00" x2="321.00" y2="668.60" stroke="#2e2e2e" stroke-width="0.9" />
<line x1="333.80" y1="671.00" x2="333.80" y2="668.60" stroke="#2e2e2e" stroke-width="0.9" />
<line x1="347.20" y1="671.00" x2="347.20" y2="668.60" stroke="#2e2e2e" stroke-width="0.9" />
<text x="280.60" y="643.00" font-size="8.8" text-anchor="middle" font-weight="normal" font-style="normal" fill="#1c1c1c" stroke="#1c1c1c" stroke-width="0.28" transform="rotate(-90 280.60 643.00)" >Fold induction</text>
<text x="295.40" y="688.70" font-size="9.3" text-anchor="end" font-weight="normal" font-style="normal" fill="#1c1c1c" stroke="#1c1c1c" stroke-width="0.28" >MC2494</text>
<text x="300.80" y="688.60" font-size="10.4" text-anchor="middle" font-weight="normal" font-style="normal" fill="#1c1c1c" stroke="#1c1c1c" stroke-width="0.5" >-</text>
<text x="314.30" y="689.00" font-size="10.4" text-anchor="middle" font-weight="normal" font-style="normal" fill="#1c1c1c" stroke="#1c1c1c" stroke-width="0.5" >+</text>
<text x="327.60" y="688.60" font-size="10.4" text-anchor="middle" font-weight="normal" font-style="normal" fill="#1c1c1c" stroke="#1c1c1c" stroke-width="0.5" >-</text>
<text x="341.30" y="688.60" font-size="10.4" text-anchor="middle" font-weight="normal" font-style="normal" fill="#1c1c1c" stroke="#1c1c1c" stroke-width="0.5" >-</text>
<text x="295.40" y="699.50" font-size="9.3" text-anchor="end" font-weight="normal" font-style="normal" fill="#1c1c1c" stroke="#1c1c1c" stroke-width="0.28" >PIETC</text>
<text x="300.80" y="699.40" font-size="10.4" text-anchor="middle" font-weight="normal" font-style="normal" fill="#1c1c1c" stroke="#1c1c1c" stroke-width="0.5" >-</text>
<text x="314.30" y="699.40" font-size="10.4" text-anchor="middle" font-weight="normal" font-style="normal" fill="#1c1c1c" stroke="#1c1c1c" stroke-width="0.5" >-</text>
<text x="327.60" y="699.80" font-size="10.4" text-anchor="middle" font-weight="normal" font-style="normal" fill="#1c1c1c" stroke="#1c1c1c" stroke-width="0.5" >+</text>
<text x="341.30" y="699.40" font-size="10.4" text-anchor="middle" font-weight="normal" font-style="normal" fill="#1c1c1c" stroke="#1c1c1c" stroke-width="0.5" >-</text>
<text x="293.40" y="710.10" font-size="9.3" text-anchor="end" font-weight="normal" font-style="normal" fill="#1c1c1c" stroke="#1c1c1c" stroke-width="0.28" >H<tspan font-size="70%" dy="2">2</tspan><tspan dy="-2">O</tspan><tspan font-size="70%" dy="2"> 2</tspan></text>
<text x="300.80" y="710.00" font-size="10.4" text-anchor="middle" font-weight="normal" font-style="normal" fill="#1c1c1c" stroke="#1c1c1c" stroke-width="0.5" >-</text>
<text x="314.30" y="710.00" font-size="10.4" text-anchor="middle" font-weight="normal" font-style="normal" fill="#1c1c1c" stroke="#1c1c1c" stroke-width="0.5" >-</text>
<text x="327.60" y="710.00" font-size="10.4" text-anchor="middle" font-weight="normal" font-style="normal" fill="#1c1c1c" stroke="#1c1c1c" stroke-width="0.5" >-</text>
<text x="341.30" y="710.40" font-size="10.4" text-anchor="middle" font-weight="normal" font-style="normal" fill="#1c1c1c" stroke="#1c1c1c" stroke-width="0.5" >+</text>
<line x1="386.80" y1="607.40" x2="386.80" y2="671.60" stroke="#2e2e2e" stroke-width="1.3" />
<line x1="386.20" y1="671.00" x2="468.80" y2="671.00" stroke="#2e2e2e" stroke-width="1.3" />
<text x="385.00" y="673.60" font-size="7.2" text-anchor="end" font-weight="normal" font-style="normal" fill="#1c1c1c" stroke="#1c1c1c" stroke-width="0.28" >0</text>
<line x1="386.80" y1="650.10" x2="389.40" y2="650.10" stroke="#2e2e2e" stroke-width="1.0" />
<text x="385.00" y="650.30" font-size="7.2" text-anchor="end" font-weight="normal" font-style="normal" fill="#1c1c1c" stroke="#1c1c1c" stroke-width="0.28" >10</text>
<line x1="386.80" y1="629.20" x2="389.40" y2="629.20" stroke="#2e2e2e" stroke-width="1.0" />
<text x="385.00" y="631.80" font-size="7.2" text-anchor="end" font-weight="normal" font-style="normal" fill="#1c1c1c" stroke="#1c1c1c" stroke-width="0.28" >20</text>
<line x1="386.80" y1="608.30" x2="389.40" y2="608.30" stroke="#2e2e2e" stroke-width="1.0" />
<text x="385.00" y="610.90" font-size="7.2" text-anchor="end" font-weight="normal" font-style="normal" fill="#1c1c1c" stroke="#1c1c1c" stroke-width="0.28" >30</text>
<line x1="396.25" y1="665.36" x2="396.25" y2="667.87" stroke="#2e2e2e" stroke-width="0.9" />
<line x1="394.05" y1="665.36" x2="398.45" y2="665.36" stroke="#2e2e2e" stroke-width="0.9" />
<rect x="392.50" y="667.87" width="7.50" height="3.13" fill="#3a3a3a" />
<line x1="409.00" y1="626.69" x2="409.00" y2="629.83" stroke="#2e2e2e" stroke-width="0.9" />
<line x1="406.80" y1="626.69" x2="411.20" y2="626.69" stroke="#2e2e2e" stroke-width="0.9" />
<rect x="405.00" y="629.83" width="8.00" height="41.17" fill="#3a3a3a" />
<line x1="421.60" y1="660.34" x2="421.60" y2="662.85" stroke="#2e2e2e" stroke-width="0.9" />
<line x1="419.40" y1="660.34" x2="423.80" y2="660.34" stroke="#2e2e2e" stroke-width="0.9" />
<rect x="417.60" y="662.85" width="8.00" height="8.15" fill="#3a3a3a" />
<line x1="434.00" y1="659.50" x2="434.00" y2="662.01" stroke="#2e2e2e" stroke-width="0.9" />
<line x1="431.80" y1="659.50" x2="436.20" y2="659.50" stroke="#2e2e2e" stroke-width="0.9" />
<rect x="430.00" y="662.01" width="8.00" height="8.99" fill="#3a3a3a" />
<line x1="448.25" y1="609.97" x2="448.25" y2="612.90" stroke="#2e2e2e" stroke-width="0.9" />
<line x1="446.05" y1="609.97" x2="450.45" y2="609.97" stroke="#2e2e2e" stroke-width="0.9" />
<rect x="444.50" y="612.90" width="7.50" height="58.10" fill="#3a3a3a" />
<line x1="460.90" y1="659.92" x2="460.90" y2="662.85" stroke="#2e2e2e" stroke-width="0.9" />
<line x1="458.70" y1="659.92" x2="463.10" y2="659.92" stroke="#2e2e2e" stroke-width="0.9" />
<rect x="456.80" y="662.85" width="8.20" height="8.15" fill="#3a3a3a" />
<line x1="402.60" y1="671.00" x2="402.60" y2="668.60" stroke="#2e2e2e" stroke-width="0.9" />
<line x1="415.40" y1="671.00" x2="415.40" y2="668.60" stroke="#2e2e2e" stroke-width="0.9" />
<line x1="428.00" y1="671.00" x2="428.00" y2="668.60" stroke="#2e2e2e" stroke-width="0.9" />
<line x1="441.40" y1="671.00" x2="441.40" y2="668.60" stroke="#2e2e2e" stroke-width="0.9" />
<line x1="454.60" y1="671.00" x2="454.60" y2="668.60" stroke="#2e2e2e" stroke-width="0.9" />
<line x1="468.80" y1="671.00" x2="468.80" y2="668.60" stroke="#2e2e2e" stroke-width="0.9" />
<text x="372.60" y="643.60" font-size="8.8" text-anchor="middle" font-weight="normal" font-style="normal" fill="#1c1c1c" stroke="#1c1c1c" stroke-width="0.28" transform="rotate(-90 372.60 643.60)" >% of Pre-G<tspan font-size="65%" dy="2">1</tspan></text>
<text x="387.40" y="687.70" font-size="9.3" text-anchor="end" font-weight="normal" font-style="normal" fill="#1c1c1c" stroke="#1c1c1c" stroke-width="0.28" >MC2494</text>
<text x="396.20" y="687.60" font-size="10.4" text-anchor="middle" font-weight="normal" font-style="normal" fill="#1c1c1c" stroke="#1c1c1c" stroke-width="0.5" >-</text>
<text x="408.80" y="688.00" font-size="10.4" text-anchor="middle" font-weight="normal" font-style="normal" fill="#1c1c1c" stroke="#1c1c1c" stroke-width="0.5" >+</text>
<text x="421.60" y="687.60" font-size="10.4" text-anchor="middle" font-weight="normal" font-style="normal" fill="#1c1c1c" stroke="#1c1c1c" stroke-width="0.5" >-</text>
<text x="432.60" y="688.00" font-size="10.4" text-anchor="middle" font-weight="normal" font-style="normal" fill="#1c1c1c" stroke="#1c1c1c" stroke-width="0.5" >+</text>
<text x="448.60" y="687.60" font-size="10.4" text-anchor="middle" font-weight="normal" font-style="normal" fill="#1c1c1c" stroke="#1c1c1c" stroke-width="0.5" >-</text>
<text x="460.00" y="687.60" font-size="10.4" text-anchor="middle" font-weight="normal" font-style="normal" fill="#1c1c1c" stroke="#1c1c1c" stroke-width="0.5" >-</text>
<text x="387.40" y="699.50" font-size="9.3" text-anchor="end" font-weight="normal" font-style="normal" fill="#1c1c1c" stroke="#1c1c1c" stroke-width="0.28" >NAC</text>
<text x="396.20" y="699.40" font-size="10.4" text-anchor="middle" font-weight="normal" font-style="normal" fill="#1c1c1c" stroke="#1c1c1c" stroke-width="0.5" >-</text>
<text x="408.80" y="699.40" font-size="10.4" text-anchor="middle" font-weight="normal" font-style="normal" fill="#1c1c1c" stroke="#1c1c1c" stroke-width="0.5" >-</text>
<text x="421.60" y="699.80" font-size="10.4" text-anchor="middle" font-weight="normal" font-style="normal" fill="#1c1c1c" stroke="#1c1c1c" stroke-width="0.5" >+</text>
<text x="432.60" y="699.80" font-size="10.4" text-anchor="middle" font-weight="normal" font-style="normal" fill="#1c1c1c" stroke="#1c1c1c" stroke-width="0.5" >+</text>
<text x="448.60" y="699.40" font-size="10.4" text-anchor="middle" font-weight="normal" font-style="normal" fill="#1c1c1c" stroke="#1c1c1c" stroke-width="0.5" >-</text>
<text x="460.00" y="699.80" font-size="10.4" text-anchor="middle" font-weight="normal" font-style="normal" fill="#1c1c1c" stroke="#1c1c1c" stroke-width="0.5" >+</text>
<text x="386.40" y="710.10" font-size="9.3" text-anchor="end" font-weight="normal" font-style="normal" fill="#1c1c1c" stroke="#1c1c1c" stroke-width="0.28" >H<tspan font-size="70%" dy="2">2</tspan><tspan dy="-2">O</tspan><tspan font-size="70%" dy="2"> 2</tspan></text>
<text x="396.20" y="710.00" font-size="10.4" text-anchor="middle" font-weight="normal" font-style="normal" fill="#1c1c1c" stroke="#1c1c1c" stroke-width="0.5" >-</text>
<text x="408.80" y="710.00" font-size="10.4" text-anchor="middle" font-weight="normal" font-style="normal" fill="#1c1c1c" stroke="#1c1c1c" stroke-width="0.5" >-</text>
<text x="421.60" y="710.00" font-size="10.4" text-anchor="middle" font-weight="normal" font-style="normal" fill="#1c1c1c" stroke="#1c1c1c" stroke-width="0.5" >-</text>
<text x="432.60" y="710.00" font-size="10.4" text-anchor="middle" font-weight="normal" font-style="normal" fill="#1c1c1c" stroke="#1c1c1c" stroke-width="0.5" >-</text>
<text x="448.60" y="710.40" font-size="10.4" text-anchor="middle" font-weight="normal" font-style="normal" fill="#1c1c1c" stroke="#1c1c1c" stroke-width="0.5" >+</text>
<text x="460.00" y="710.40" font-size="10.4" text-anchor="middle" font-weight="normal" font-style="normal" fill="#1c1c1c" stroke="#1c1c1c" stroke-width="0.5" >+</text>
</g>
<defs><filter id="soft" x="0" y="0" width="100%" height="100%" filterUnits="userSpaceOnUse"><feGaussianBlur stdDeviation="0.35"/></filter></defs>
</svg>
</body>
</html>
